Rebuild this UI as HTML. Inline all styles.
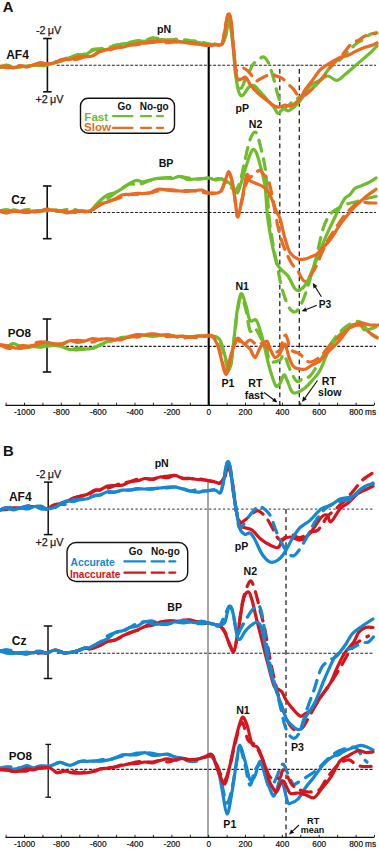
<!DOCTYPE html>
<html><head><meta charset="utf-8"><style>
html,body{margin:0;padding:0;background:#fff;}
body{width:379px;height:850px;overflow:hidden;}
svg{display:block;font-family:"Liberation Sans", sans-serif;}
</style></head><body>
<svg width="379" height="850" viewBox="0 0 379 850">
<rect width="379" height="850" fill="#fff"/>
<text x="8.2" y="11.6" font-size="14.8" font-weight="bold" fill="#111" text-anchor="middle" >A</text>
<line x1="56.7" y1="65.2" x2="376.0" y2="65.2" stroke="#222" stroke-width="1.1" stroke-dasharray="3 1.6"/>
<line x1="56.7" y1="212.5" x2="376.0" y2="212.5" stroke="#222" stroke-width="1.1" stroke-dasharray="3 1.6"/>
<line x1="56.7" y1="346.4" x2="376.0" y2="346.4" stroke="#222" stroke-width="1.1" stroke-dasharray="3 1.6"/>
<line x1="279.8" y1="64.8" x2="279.8" y2="405.0" stroke="#222" stroke-width="1.3" stroke-dasharray="4.75 3.55" stroke-dashoffset="4.20"/>
<line x1="299.3" y1="64.8" x2="299.3" y2="405.0" stroke="#222" stroke-width="1.3" stroke-dasharray="4.75 3.55" stroke-dashoffset="4.20"/>
<line x1="208.7" y1="45" x2="208.7" y2="405.5" stroke="#000" stroke-width="2.1"/>
<line x1="5.5" y1="405.3" x2="374" y2="405.3" stroke="#111" stroke-width="1.3"/>
<line x1="6.1" y1="402.7" x2="6.1" y2="405.3" stroke="#111" stroke-width="0.9"/>
<line x1="24.5" y1="402.7" x2="24.5" y2="405.3" stroke="#111" stroke-width="0.9"/>
<line x1="42.9" y1="402.7" x2="42.9" y2="405.3" stroke="#111" stroke-width="0.9"/>
<line x1="61.3" y1="402.7" x2="61.3" y2="405.3" stroke="#111" stroke-width="0.9"/>
<line x1="79.8" y1="402.7" x2="79.8" y2="405.3" stroke="#111" stroke-width="0.9"/>
<line x1="98.2" y1="402.7" x2="98.2" y2="405.3" stroke="#111" stroke-width="0.9"/>
<line x1="116.6" y1="402.7" x2="116.6" y2="405.3" stroke="#111" stroke-width="0.9"/>
<line x1="135.0" y1="402.7" x2="135.0" y2="405.3" stroke="#111" stroke-width="0.9"/>
<line x1="153.4" y1="402.7" x2="153.4" y2="405.3" stroke="#111" stroke-width="0.9"/>
<line x1="171.9" y1="402.7" x2="171.9" y2="405.3" stroke="#111" stroke-width="0.9"/>
<line x1="190.3" y1="402.7" x2="190.3" y2="405.3" stroke="#111" stroke-width="0.9"/>
<line x1="208.7" y1="402.7" x2="208.7" y2="405.3" stroke="#111" stroke-width="0.9"/>
<line x1="227.1" y1="402.7" x2="227.1" y2="405.3" stroke="#111" stroke-width="0.9"/>
<line x1="245.5" y1="402.7" x2="245.5" y2="405.3" stroke="#111" stroke-width="0.9"/>
<line x1="264.0" y1="402.7" x2="264.0" y2="405.3" stroke="#111" stroke-width="0.9"/>
<line x1="282.4" y1="402.7" x2="282.4" y2="405.3" stroke="#111" stroke-width="0.9"/>
<line x1="300.8" y1="402.7" x2="300.8" y2="405.3" stroke="#111" stroke-width="0.9"/>
<line x1="319.2" y1="402.7" x2="319.2" y2="405.3" stroke="#111" stroke-width="0.9"/>
<line x1="337.6" y1="402.7" x2="337.6" y2="405.3" stroke="#111" stroke-width="0.9"/>
<line x1="356.1" y1="402.7" x2="356.1" y2="405.3" stroke="#111" stroke-width="0.9"/>
<line x1="374.5" y1="402.7" x2="374.5" y2="405.3" stroke="#111" stroke-width="0.9"/>
<text transform="translate(24.5,415.3) scale(0.9,1)" font-size="9.2" fill="#111" stroke="#111" stroke-width="0.22" text-anchor="middle">-1000</text>
<text transform="translate(61.3,415.3) scale(0.9,1)" font-size="9.2" fill="#111" stroke="#111" stroke-width="0.22" text-anchor="middle">-800</text>
<text transform="translate(98.2,415.3) scale(0.9,1)" font-size="9.2" fill="#111" stroke="#111" stroke-width="0.22" text-anchor="middle">-600</text>
<text transform="translate(135.0,415.3) scale(0.9,1)" font-size="9.2" fill="#111" stroke="#111" stroke-width="0.22" text-anchor="middle">-400</text>
<text transform="translate(171.9,415.3) scale(0.9,1)" font-size="9.2" fill="#111" stroke="#111" stroke-width="0.22" text-anchor="middle">-200</text>
<text transform="translate(208.7,415.3) scale(0.9,1)" font-size="9.2" fill="#111" stroke="#111" stroke-width="0.22" text-anchor="middle">0</text>
<text transform="translate(245.5,415.3) scale(0.9,1)" font-size="9.2" fill="#111" stroke="#111" stroke-width="0.22" text-anchor="middle">200</text>
<text transform="translate(282.4,415.3) scale(0.9,1)" font-size="9.2" fill="#111" stroke="#111" stroke-width="0.22" text-anchor="middle">400</text>
<text transform="translate(319.2,415.3) scale(0.9,1)" font-size="9.2" fill="#111" stroke="#111" stroke-width="0.22" text-anchor="middle">600</text>
<text transform="translate(356.1,415.3) scale(0.9,1)" font-size="9.2" fill="#111" stroke="#111" stroke-width="0.22" text-anchor="middle">800</text>
<text transform="translate(365,415.3) scale(0.9,1)" font-size="9.2" fill="#111" stroke="#111" stroke-width="0.22">ms</text>
<line x1="47.4" y1="38.5" x2="47.4" y2="91.8" stroke="#111" stroke-width="1.6"/>
<line x1="43.1" y1="38.5" x2="51.7" y2="38.5" stroke="#111" stroke-width="1.6"/>
<line x1="43.1" y1="91.8" x2="51.7" y2="91.8" stroke="#111" stroke-width="1.6"/>
<line x1="47.2" y1="186.0" x2="47.2" y2="238.7" stroke="#111" stroke-width="1.6"/>
<line x1="42.9" y1="186.0" x2="51.5" y2="186.0" stroke="#111" stroke-width="1.6"/>
<line x1="42.9" y1="238.7" x2="51.5" y2="238.7" stroke="#111" stroke-width="1.6"/>
<line x1="47.0" y1="319.0" x2="47.0" y2="372.0" stroke="#111" stroke-width="1.6"/>
<line x1="42.7" y1="319.0" x2="51.3" y2="319.0" stroke="#111" stroke-width="1.6"/>
<line x1="42.7" y1="372.0" x2="51.3" y2="372.0" stroke="#111" stroke-width="1.6"/>
<text x="48.5" y="34.1" font-size="10.8" font-weight="normal" fill="#1a1a1a" text-anchor="middle" stroke="#1a1a1a" stroke-width="0.25">-2&#8201;&#956;V</text>
<text x="49.5" y="102.6" font-size="10.8" font-weight="normal" fill="#1a1a1a" text-anchor="middle" stroke="#1a1a1a" stroke-width="0.25">+2&#8201;&#956;V</text>
<text x="17.5" y="59.2" font-size="12.0" font-weight="bold" fill="#111" text-anchor="middle" >AF4</text>
<text x="18.5" y="204.4" font-size="12.0" font-weight="bold" fill="#111" text-anchor="middle" >Cz</text>
<text x="19.3" y="337.0" font-size="11.6" font-weight="bold" fill="#111" text-anchor="middle" >PO8</text>
<rect x="80.5" y="98.3" width="94" height="35" rx="7.5" ry="7.5" fill="#fff" stroke="#111" stroke-width="1.4"/>
<text x="124.5" y="110.3" font-size="10.0" font-weight="bold" fill="#111" text-anchor="middle" >Go</text>
<text x="154.2" y="110.3" font-size="10.0" font-weight="bold" fill="#111" text-anchor="middle" >No-go</text>
<text x="84.3" y="120.6" font-size="11.6" font-weight="bold" fill="#6fbd2c" text-anchor="start" >Fast</text>
<text x="84.0" y="130.8" font-size="11.6" font-weight="bold" fill="#ea6a22" text-anchor="start" >Slow</text>
<line x1="113" y1="116.1" x2="132.4" y2="116.1" stroke="#6fbd2c" stroke-width="2.2" stroke-linecap="round"/>
<line x1="141" y1="116.1" x2="151" y2="116.1" stroke="#6fbd2c" stroke-width="2.2" stroke-linecap="round"/>
<line x1="157" y1="116.1" x2="163" y2="116.1" stroke="#6fbd2c" stroke-width="2.2" stroke-linecap="round"/>
<line x1="113" y1="127.9" x2="132.4" y2="127.9" stroke="#ea6a22" stroke-width="2.2" stroke-linecap="round"/>
<line x1="141" y1="127.9" x2="151" y2="127.9" stroke="#ea6a22" stroke-width="2.2" stroke-linecap="round"/>
<line x1="157" y1="127.9" x2="163" y2="127.9" stroke="#ea6a22" stroke-width="2.2" stroke-linecap="round"/>
<path d="M0.0,67.6 C1.1,67.4 4.4,66.5 6.7,66.4 C8.9,66.4 11.1,67.3 13.3,67.4 C15.6,67.5 17.6,67.4 20.0,67.1 C22.4,66.8 25.0,66.0 27.5,65.8 C30.0,65.5 32.8,65.4 35.0,65.4 C37.2,65.4 39.0,65.7 41.0,65.6 C43.0,65.6 44.7,65.6 47.0,65.1 C49.3,64.6 52.4,63.6 55.0,62.9 C57.6,62.1 60.0,61.6 62.5,60.7 C65.0,59.8 67.5,58.6 70.0,57.6 C72.5,56.6 75.0,55.1 77.5,54.6 C80.0,54.2 82.5,55.6 85.0,54.9 C87.5,54.2 90.0,51.3 92.5,50.4 C95.0,49.6 97.5,49.8 100.0,49.6 C102.5,49.4 105.0,49.8 107.5,49.2 C110.0,48.7 112.5,47.2 115.0,46.3 C117.5,45.4 120.0,44.4 122.5,43.9 C125.0,43.4 127.5,43.8 130.0,43.4 C132.5,43.0 135.0,41.7 137.5,41.3 C140.0,41.0 142.5,41.1 145.0,41.3 C147.5,41.5 150.0,42.7 152.5,42.4 C155.0,42.1 157.5,40.2 160.0,39.7 C162.5,39.3 165.0,39.8 167.5,39.9 C170.0,40.0 172.5,39.9 175.0,40.3 C177.5,40.6 180.0,41.9 182.5,42.1 C185.0,42.3 187.1,41.3 190.0,41.4 C192.9,41.5 196.8,42.3 200.0,42.8 C203.2,43.3 206.4,44.2 209.0,44.5 C211.6,44.8 213.3,44.5 215.5,44.4 C217.7,44.4 220.2,45.6 222.0,44.0 C223.8,42.4 225.0,38.3 226.0,35.0 C227.0,31.7 227.2,24.8 228.0,24.0 C228.8,23.2 230.0,24.8 231.0,30.0 C232.0,35.2 233.2,47.6 234.0,55.0 C234.8,62.4 234.6,68.2 235.5,74.5 C236.4,80.8 237.9,89.6 239.2,93.0 C240.4,96.4 241.4,95.9 243.0,95.0 C244.6,94.1 246.7,89.1 248.5,87.5 C250.3,85.9 252.2,85.0 254.0,85.6 C255.8,86.2 257.3,88.9 259.5,91.2 C261.7,93.5 264.5,96.7 267.0,99.5 C269.5,102.3 272.5,105.5 274.3,107.8 C276.1,110.1 276.4,113.1 278.0,113.3 C279.6,113.5 281.8,109.2 283.6,108.7 C285.4,108.2 286.3,111.9 289.0,110.6 C291.7,109.3 296.5,105.1 300.0,101.0 C303.5,96.9 306.7,89.4 310.0,86.0 C313.3,82.6 317.0,82.1 320.0,80.4 C323.0,78.7 325.2,76.0 328.0,76.0 C330.8,76.0 334.2,80.6 337.0,80.4 C339.8,80.2 342.0,77.0 345.0,74.6 C348.0,72.2 351.7,68.9 355.0,66.0 C358.3,63.1 362.3,59.7 365.0,57.4 C367.7,55.1 369.0,54.0 371.0,52.1 C373.0,50.2 376.0,47.0 377.0,46.0" fill="none" stroke="#6fbd2c" stroke-width="3.2" stroke-linecap="round" stroke-linejoin="round"/>
<path d="M0.0,66.6 C1.1,66.4 4.4,65.1 6.7,65.1 C8.9,65.1 11.1,66.6 13.3,66.8 C15.6,66.9 17.6,66.1 20.0,66.1 C22.4,66.1 25.0,66.9 27.5,66.6 C30.0,66.4 32.8,64.8 35.0,64.4 C37.2,64.0 39.0,64.4 41.0,64.3 C43.0,64.3 44.7,64.5 47.0,64.1 C49.3,63.7 52.4,62.5 55.0,61.9 C57.6,61.2 60.0,61.0 62.5,60.1 C65.0,59.3 67.5,57.3 70.0,56.6 C72.5,55.9 75.0,56.4 77.5,55.9 C80.0,55.5 82.5,55.0 85.0,53.9 C87.5,52.9 90.0,50.5 92.5,49.6 C95.0,48.8 97.5,48.9 100.0,48.7 C102.5,48.4 105.0,48.5 107.5,48.0 C110.0,47.4 112.5,45.9 115.0,45.3 C117.5,44.7 120.0,44.7 122.5,44.2 C125.0,43.7 127.5,43.0 130.0,42.4 C132.5,41.8 135.0,41.0 137.5,40.7 C140.0,40.3 142.5,40.8 145.0,40.4 C147.5,39.9 150.0,38.1 152.5,37.8 C155.0,37.5 157.5,38.4 160.0,38.8 C162.5,39.3 165.0,40.4 167.5,40.5 C170.0,40.6 172.5,39.5 175.0,39.3 C177.5,39.2 180.0,39.6 182.5,39.8 C185.0,40.0 187.1,40.1 190.0,40.5 C192.9,40.8 196.8,41.3 200.0,41.9 C203.2,42.5 206.4,43.3 209.0,43.8 C211.6,44.3 213.3,44.7 215.5,44.8 C217.7,44.8 220.2,46.0 222.0,44.0 C223.8,42.0 225.0,37.0 226.0,33.0 C227.0,29.0 227.2,20.8 228.0,20.0 C228.8,19.2 230.0,22.2 231.0,28.0 C232.0,33.8 233.0,46.7 234.0,55.0 C235.0,63.3 235.8,72.4 237.0,78.0 C238.2,83.6 239.7,88.1 241.0,88.4 C242.3,88.7 243.8,82.5 245.0,80.0 C246.2,77.5 247.2,76.2 248.5,73.6 C249.8,71.0 251.2,66.8 253.0,64.4 C254.8,62.0 257.2,60.2 259.0,59.0 C260.8,57.8 262.5,56.5 264.0,57.0 C265.5,57.5 266.8,59.8 268.0,62.0 C269.2,64.2 269.9,66.8 271.0,70.0 C272.1,73.2 273.3,77.3 274.3,81.0 C275.3,84.7 275.9,88.2 277.0,92.0 C278.1,95.8 279.6,101.3 280.8,104.0 C282.0,106.7 282.6,107.8 284.0,108.0 C285.4,108.2 287.4,106.3 289.0,105.0 C290.6,103.7 291.9,101.7 293.7,100.4 C295.5,99.1 297.6,98.4 300.0,97.0 C302.4,95.6 305.3,94.0 308.0,92.0 C310.7,90.0 313.5,87.5 316.0,85.0 C318.5,82.5 320.7,79.7 323.0,76.8 C325.3,73.9 327.6,69.9 330.0,67.5 C332.4,65.1 335.0,64.3 337.5,62.1 C340.0,60.0 342.8,56.8 345.0,54.5 C347.2,52.2 349.0,50.4 351.0,48.5 C353.0,46.6 354.9,44.5 357.0,43.0 C359.1,41.5 361.3,40.9 363.5,39.5 C365.7,38.1 367.8,35.5 370.0,34.4 C372.2,33.3 375.8,33.2 377.0,33.0" fill="none" stroke="#6fbd2c" stroke-width="3.2" stroke-linecap="round" stroke-linejoin="round" stroke-dasharray="11 8"/>
<path d="M0.0,66.5 C1.1,66.4 4.4,65.9 6.7,66.1 C8.9,66.3 11.1,67.8 13.3,67.8 C15.6,67.8 17.6,66.2 20.0,66.0 C22.4,65.8 25.0,66.9 27.5,66.6 C30.0,66.3 32.8,65.0 35.0,64.3 C37.2,63.6 39.0,62.7 41.0,62.6 C43.0,62.6 44.7,64.0 47.0,64.0 C49.3,64.0 52.4,63.2 55.0,62.5 C57.6,61.8 60.0,60.1 62.5,59.6 C65.0,59.1 67.5,59.9 70.0,59.5 C72.5,59.1 75.0,57.5 77.5,57.1 C80.0,56.6 82.5,57.0 85.0,56.8 C87.5,56.6 90.0,56.8 92.5,55.9 C95.0,55.0 97.5,52.6 100.0,51.5 C102.5,50.4 105.0,50.1 107.5,49.6 C110.0,49.0 112.5,48.5 115.0,48.1 C117.5,47.7 120.0,47.6 122.5,47.1 C125.0,46.6 127.5,45.8 130.0,45.2 C132.5,44.6 135.0,43.7 137.5,43.4 C140.0,43.0 142.5,43.3 145.0,43.1 C147.5,42.9 150.0,42.6 152.5,42.3 C155.0,42.1 157.5,41.7 160.0,41.5 C162.5,41.3 165.0,41.2 167.5,41.3 C170.0,41.4 172.5,41.9 175.0,42.0 C177.5,42.1 180.0,41.8 182.5,42.0 C185.0,42.2 187.1,42.7 190.0,43.1 C192.9,43.5 196.8,44.1 200.0,44.5 C203.2,44.9 206.4,45.4 209.0,45.5 C211.6,45.6 213.3,45.2 215.5,45.0 C217.7,44.7 220.4,46.5 222.0,44.0 C223.6,41.5 224.0,34.9 225.0,30.0 C226.0,25.1 227.0,16.2 228.0,14.5 C229.0,12.8 230.1,14.1 231.0,20.0 C231.9,25.9 232.8,40.6 233.7,50.0 C234.6,59.4 235.3,71.5 236.5,76.4 C237.7,81.3 239.5,79.1 241.0,79.2 C242.5,79.3 244.1,76.4 245.7,77.3 C247.2,78.2 248.3,82.1 250.3,84.7 C252.3,87.3 254.9,90.4 257.7,93.0 C260.5,95.6 264.2,98.2 267.0,100.4 C269.8,102.6 272.1,104.9 274.3,106.0 C276.5,107.1 278.1,107.2 280.0,107.0 C281.9,106.8 283.6,105.2 285.4,105.0 C287.2,104.8 288.6,107.1 291.0,106.0 C293.4,104.9 297.7,101.3 300.0,98.6 C302.3,95.9 302.9,93.1 305.0,90.0 C307.1,86.9 310.0,83.6 312.5,80.2 C315.0,76.9 317.1,72.9 320.0,70.0 C322.9,67.1 326.7,65.1 330.0,63.0 C333.3,60.9 337.1,58.6 340.0,57.4 C342.9,56.2 345.0,56.5 347.5,55.6 C350.0,54.6 352.1,53.0 355.0,51.6 C357.9,50.2 362.3,48.3 365.0,47.3 C367.7,46.3 369.0,46.4 371.0,45.6 C373.0,44.9 376.0,43.4 377.0,43.0" fill="none" stroke="#ea6a22" stroke-width="3.2" stroke-linecap="round" stroke-linejoin="round"/>
<path d="M0.0,66.2 C1.1,66.4 4.4,67.5 6.7,67.7 C8.9,67.8 11.1,67.5 13.3,67.2 C15.6,66.9 17.6,65.8 20.0,65.7 C22.4,65.6 25.0,67.0 27.5,66.7 C30.0,66.4 32.8,64.4 35.0,64.0 C37.2,63.6 39.0,64.6 41.0,64.5 C43.0,64.5 44.7,64.1 47.0,63.7 C49.3,63.3 52.4,62.9 55.0,62.2 C57.6,61.5 60.0,59.9 62.5,59.4 C65.0,58.9 67.5,59.2 70.0,59.2 C72.5,59.2 75.0,59.7 77.5,59.2 C80.0,58.8 82.5,57.1 85.0,56.5 C87.5,55.9 90.0,56.5 92.5,55.6 C95.0,54.7 97.5,52.0 100.0,51.2 C102.5,50.4 105.0,51.6 107.5,51.0 C110.0,50.5 112.5,48.5 115.0,47.8 C117.5,47.1 120.0,47.1 122.5,46.6 C125.0,46.1 127.5,45.2 130.0,44.9 C132.5,44.6 135.0,45.0 137.5,44.7 C140.0,44.3 142.5,43.4 145.0,42.8 C147.5,42.2 150.0,41.2 152.5,40.9 C155.0,40.6 157.5,40.9 160.0,41.2 C162.5,41.5 165.0,42.6 167.5,42.7 C170.0,42.8 172.5,41.7 175.0,41.7 C177.5,41.7 180.0,42.3 182.5,42.5 C185.0,42.7 187.1,42.5 190.0,42.8 C192.9,43.1 196.8,43.8 200.0,44.2 C203.2,44.6 206.4,45.2 209.0,45.2 C211.6,45.2 213.3,44.2 215.5,44.0 C217.7,43.8 220.4,46.7 222.0,44.0 C223.6,41.3 224.0,32.8 225.0,28.0 C226.0,23.2 227.0,16.0 228.0,15.0 C229.0,14.0 230.0,15.3 231.0,22.0 C232.0,28.7 233.2,47.0 234.0,55.0 C234.8,63.0 234.5,67.8 236.0,70.0 C237.5,72.2 241.0,67.8 243.0,68.0 C245.0,68.2 246.5,69.7 248.0,71.0 C249.5,72.3 250.7,74.3 252.0,76.0 C253.3,77.7 254.7,80.5 256.0,81.0 C257.3,81.5 258.3,79.8 260.0,79.0 C261.7,78.2 264.0,76.8 266.0,76.0 C268.0,75.2 270.3,74.0 272.0,74.0 C273.7,74.0 274.4,75.3 276.0,76.0 C277.6,76.7 279.7,76.7 281.7,78.0 C283.7,79.3 286.0,82.1 288.0,84.0 C290.0,85.9 292.0,87.5 293.7,89.3 C295.4,91.1 296.1,94.0 298.0,95.0 C299.9,96.0 302.2,96.5 305.0,95.0 C307.8,93.5 311.7,89.4 315.0,86.0 C318.3,82.6 322.3,77.9 325.0,74.6 C327.7,71.3 329.0,68.6 331.0,66.1 C333.0,63.7 335.0,62.0 337.0,60.0 C339.0,58.0 340.5,56.8 343.0,54.0 C345.5,51.2 349.4,45.3 352.0,43.0 C354.6,40.7 356.3,41.6 358.5,40.4 C360.7,39.3 362.1,37.2 365.0,36.0 C367.9,34.8 374.2,33.5 376.0,33.0" fill="none" stroke="#ea6a22" stroke-width="3.2" stroke-linecap="round" stroke-linejoin="round" stroke-dasharray="11 8"/>
<text x="164.0" y="33.0" font-size="10.6" font-weight="bold" fill="#111" text-anchor="middle" >pN</text>
<text x="242.2" y="112.4" font-size="10.6" font-weight="bold" fill="#111" text-anchor="middle" >pP</text>
<path d="M0.0,211.0 C1.1,211.3 4.4,213.2 6.7,213.0 C8.9,212.8 11.1,210.0 13.3,209.8 C15.6,209.5 17.8,211.0 20.0,211.5 C22.2,212.0 24.4,212.6 26.7,212.5 C28.9,212.4 31.1,211.1 33.3,210.8 C35.6,210.6 37.8,211.2 40.0,211.0 C42.2,210.8 44.4,209.8 46.7,209.7 C48.9,209.5 51.1,210.0 53.3,210.2 C55.6,210.4 57.8,210.7 60.0,211.0 C62.2,211.3 64.4,211.8 66.7,212.0 C68.9,212.3 71.1,212.6 73.3,212.4 C75.6,212.2 77.2,211.2 80.0,211.0 C82.8,210.8 86.7,212.7 90.0,211.0 C93.3,209.3 97.1,203.4 100.0,200.7 C102.9,198.0 105.0,196.3 107.5,195.0 C110.0,193.6 112.5,193.8 115.0,192.7 C117.5,191.6 120.0,190.0 122.5,188.4 C125.0,186.8 127.6,184.5 130.0,183.2 C132.4,181.9 134.4,180.6 136.7,180.4 C138.9,180.2 141.1,182.0 143.3,181.9 C145.6,181.8 147.6,180.6 150.0,180.0 C152.4,179.4 155.0,178.7 157.5,178.3 C160.0,178.0 162.5,177.9 165.0,177.9 C167.5,177.9 170.0,178.8 172.5,178.5 C175.0,178.3 177.5,176.1 180.0,176.3 C182.5,176.5 185.0,179.0 187.5,179.5 C190.0,179.9 192.6,179.2 195.0,179.0 C197.4,178.8 199.7,178.7 202.0,178.5 C204.3,178.4 206.8,177.8 209.0,178.0 C211.2,178.2 213.3,179.7 215.5,179.8 C217.7,180.0 219.6,178.4 222.0,179.0 C224.4,179.6 227.8,181.6 230.0,183.6 C232.2,185.6 233.7,189.4 235.0,190.8 C236.3,192.2 236.8,193.8 238.0,192.0 C239.2,190.2 240.5,184.8 242.0,180.0 C243.5,175.2 245.3,168.3 247.0,163.4 C248.7,158.5 250.5,152.3 252.0,150.4 C253.5,148.5 254.7,149.6 256.0,152.0 C257.3,154.4 258.5,158.9 260.0,164.6 C261.5,170.3 263.7,176.8 265.0,186.0 C266.3,195.2 266.3,208.1 268.0,220.0 C269.7,231.9 273.0,249.2 275.0,257.3 C277.0,265.4 277.8,265.2 280.0,268.3 C282.2,271.4 285.5,272.6 288.0,276.0 C290.5,279.4 293.0,286.4 295.0,288.7 C297.0,291.0 298.0,291.1 300.0,290.0 C302.0,288.9 304.5,286.8 307.0,282.4 C309.5,278.0 312.0,270.9 315.0,263.6 C318.0,256.3 322.1,245.4 325.0,238.5 C327.9,231.6 330.0,227.5 332.5,222.2 C335.0,217.0 337.9,211.0 340.0,207.0 C342.1,203.0 343.3,200.4 345.0,198.3 C346.7,196.2 348.3,196.3 350.0,194.6 C351.7,192.9 353.0,189.8 355.0,188.3 C357.0,186.8 359.5,186.6 362.0,185.5 C364.5,184.4 367.7,183.2 370.0,181.9 C372.3,180.7 375.0,178.7 376.0,178.0" fill="none" stroke="#6fbd2c" stroke-width="3.2" stroke-linecap="round" stroke-linejoin="round"/>
<path d="M0.0,211.0 C1.1,210.8 4.4,209.4 6.7,209.6 C8.9,209.7 11.1,211.4 13.3,211.7 C15.6,212.0 17.8,211.9 20.0,211.5 C22.2,211.1 24.4,209.8 26.7,209.6 C28.9,209.3 31.1,209.8 33.3,210.0 C35.6,210.3 37.8,210.9 40.0,211.0 C42.2,211.1 44.4,210.6 46.7,210.7 C48.9,210.7 51.1,211.4 53.3,211.4 C55.6,211.5 57.8,211.3 60.0,211.0 C62.2,210.7 64.4,210.0 66.7,209.7 C68.9,209.4 71.1,209.0 73.3,209.3 C75.6,209.5 77.2,210.7 80.0,211.0 C82.8,211.3 86.7,212.7 90.0,211.0 C93.3,209.3 97.1,203.1 100.0,201.0 C102.9,198.9 105.0,199.7 107.5,198.4 C110.0,197.1 112.5,194.8 115.0,193.0 C117.5,191.2 120.0,189.3 122.5,187.8 C125.0,186.3 127.6,184.5 130.0,184.0 C132.4,183.5 134.4,184.7 136.7,184.6 C138.9,184.4 141.1,183.9 143.3,183.2 C145.6,182.5 147.6,181.2 150.0,180.5 C152.4,179.8 155.0,179.2 157.5,178.8 C160.0,178.4 162.5,178.3 165.0,178.0 C167.5,177.7 170.0,177.3 172.5,177.1 C175.0,176.8 177.5,176.4 180.0,176.5 C182.5,176.6 185.0,177.4 187.5,177.8 C190.0,178.2 192.6,178.8 195.0,179.0 C197.4,179.2 199.7,179.2 202.0,179.0 C204.3,178.9 206.8,178.0 209.0,178.0 C211.2,178.0 213.3,178.6 215.5,178.8 C217.7,178.9 219.8,178.0 222.0,179.0 C224.2,180.0 226.3,182.8 228.5,184.7 C230.7,186.5 233.1,190.4 235.0,190.0 C236.9,189.6 238.3,187.0 240.0,182.0 C241.7,177.0 243.3,167.1 245.0,160.0 C246.7,152.9 248.2,144.3 250.0,139.7 C251.8,135.1 254.0,130.4 256.0,132.6 C258.0,134.8 260.3,145.7 262.0,152.8 C263.7,159.9 264.7,163.0 266.0,175.0 C267.3,187.0 268.0,209.2 270.0,225.0 C272.0,240.8 275.8,258.8 278.0,270.0 C280.2,281.2 281.0,285.5 283.0,292.0 C285.0,298.5 287.7,305.9 290.0,309.0 C292.3,312.1 294.5,313.0 297.0,310.7 C299.5,308.4 302.0,303.1 305.0,295.0 C308.0,286.9 312.0,273.0 315.0,262.0 C318.0,251.0 320.5,236.9 323.0,229.0 C325.5,221.1 327.5,218.1 330.0,214.7 C332.5,211.2 335.0,210.1 338.0,208.3 C341.0,206.5 344.9,204.8 348.0,203.7 C351.1,202.6 353.7,202.5 356.5,201.7 C359.3,200.9 361.8,199.9 365.0,199.0 C368.2,198.1 374.2,196.8 376.0,196.4" fill="none" stroke="#6fbd2c" stroke-width="3.2" stroke-linecap="round" stroke-linejoin="round" stroke-dasharray="11 8"/>
<path d="M0.0,211.0 C1.1,211.3 4.4,212.8 6.7,212.8 C8.9,212.9 11.1,211.6 13.3,211.4 C15.6,211.1 17.8,211.5 20.0,211.5 C22.2,211.5 24.4,211.0 26.7,211.1 C28.9,211.2 31.1,212.0 33.3,212.0 C35.6,212.0 37.8,211.3 40.0,211.0 C42.2,210.7 44.4,210.1 46.7,210.0 C48.9,209.9 51.1,210.1 53.3,210.2 C55.6,210.4 57.8,210.6 60.0,211.0 C62.2,211.4 64.4,212.8 66.7,212.8 C68.9,212.8 71.1,211.4 73.3,211.1 C75.6,210.8 77.2,211.0 80.0,211.0 C82.8,211.0 86.7,212.1 90.0,211.0 C93.3,209.9 97.1,206.0 100.0,204.5 C102.9,203.0 105.0,202.9 107.5,201.9 C110.0,201.0 112.5,200.2 115.0,199.0 C117.5,197.8 120.0,195.6 122.5,194.8 C125.0,194.0 127.6,194.5 130.0,194.3 C132.4,194.1 134.4,193.6 136.7,193.4 C138.9,193.3 141.1,193.7 143.3,193.5 C145.6,193.4 147.6,193.4 150.0,192.7 C152.4,192.0 155.0,189.8 157.5,189.3 C160.0,188.8 162.5,189.4 165.0,189.6 C167.5,189.8 170.0,190.5 172.5,190.7 C175.0,191.0 177.5,190.9 180.0,191.0 C182.5,191.1 185.0,191.3 187.5,191.3 C190.0,191.2 192.6,190.7 195.0,190.5 C197.4,190.3 199.7,189.7 202.0,190.1 C204.3,190.5 206.0,192.7 209.0,193.0 C212.0,193.3 217.3,194.0 220.0,192.0 C222.7,190.0 223.5,184.4 225.0,181.0 C226.5,177.6 227.7,171.1 229.0,171.8 C230.3,172.5 231.8,179.1 233.0,185.0 C234.2,190.9 235.2,201.7 236.0,207.0 C236.8,212.3 237.0,218.1 238.0,216.9 C239.0,215.7 240.7,206.2 242.0,199.6 C243.3,193.0 245.0,181.5 246.0,177.4 C247.0,173.3 247.3,174.5 248.0,175.0 C248.7,175.5 248.8,179.3 250.0,180.6 C251.2,181.9 253.0,182.1 255.0,183.0 C257.0,183.9 260.0,184.8 262.0,186.0 C264.0,187.2 265.3,187.7 267.0,190.0 C268.7,192.3 270.5,196.2 272.0,199.6 C273.5,203.0 274.7,207.5 276.0,210.7 C277.3,213.9 278.5,214.0 280.0,218.6 C281.5,223.2 283.3,232.8 285.0,238.5 C286.7,244.2 287.8,249.2 290.0,252.6 C292.2,256.0 295.5,257.9 298.0,259.0 C300.5,260.1 302.8,259.4 305.0,259.0 C307.2,258.6 309.0,257.7 311.0,256.8 C313.0,256.0 314.9,255.7 317.0,254.0 C319.1,252.3 321.3,249.2 323.5,246.9 C325.7,244.6 327.2,243.7 330.0,240.0 C332.8,236.3 336.7,229.4 340.0,224.7 C343.3,220.0 347.0,215.5 350.0,212.0 C353.0,208.5 355.5,206.1 358.0,203.7 C360.5,201.3 362.0,199.8 365.0,197.4 C368.0,195.0 374.2,190.6 376.0,189.2" fill="none" stroke="#ea6a22" stroke-width="3.2" stroke-linecap="round" stroke-linejoin="round"/>
<path d="M0.0,211.0 C1.1,211.1 4.4,211.9 6.7,211.8 C8.9,211.8 11.1,210.8 13.3,210.8 C15.6,210.7 17.8,211.3 20.0,211.5 C22.2,211.7 24.4,212.0 26.7,212.1 C28.9,212.2 31.1,212.3 33.3,212.1 C35.6,211.9 37.8,211.5 40.0,211.0 C42.2,210.5 44.4,209.5 46.7,209.2 C48.9,208.9 51.1,209.0 53.3,209.3 C55.6,209.6 57.8,210.6 60.0,211.0 C62.2,211.4 64.4,211.4 66.7,211.7 C68.9,212.0 71.1,212.9 73.3,212.8 C75.6,212.6 77.2,211.3 80.0,211.0 C82.8,210.7 86.7,212.0 90.0,211.0 C93.3,210.0 97.1,206.6 100.0,205.0 C102.9,203.4 105.0,202.2 107.5,201.3 C110.0,200.4 112.5,200.2 115.0,199.5 C117.5,198.8 120.0,197.7 122.5,196.8 C125.0,196.0 127.6,194.9 130.0,194.5 C132.4,194.1 134.4,194.6 136.7,194.4 C138.9,194.1 141.1,193.0 143.3,192.8 C145.6,192.6 147.6,193.3 150.0,193.0 C152.4,192.7 155.0,191.5 157.5,191.0 C160.0,190.5 162.5,190.2 165.0,190.0 C167.5,189.8 170.0,189.6 172.5,189.8 C175.0,190.0 177.5,190.9 180.0,191.0 C182.5,191.1 185.0,190.5 187.5,190.5 C190.0,190.5 192.6,190.7 195.0,191.0 C197.4,191.3 199.7,192.0 202.0,192.4 C204.3,192.7 206.0,193.1 209.0,193.0 C212.0,192.9 217.3,193.8 220.0,192.0 C222.7,190.2 223.5,185.2 225.0,182.0 C226.5,178.8 227.7,172.3 229.0,173.0 C230.3,173.7 231.8,180.2 233.0,186.0 C234.2,191.8 235.2,203.0 236.0,208.0 C236.8,213.0 237.0,217.3 238.0,216.0 C239.0,214.7 240.5,205.7 242.0,200.0 C243.5,194.3 244.8,186.4 247.0,182.0 C249.2,177.6 252.8,175.4 255.0,173.5 C257.2,171.6 258.5,170.1 260.0,170.3 C261.5,170.6 262.7,173.6 264.0,175.0 C265.3,176.4 266.7,175.7 268.0,179.0 C269.3,182.3 270.0,185.6 272.0,195.0 C274.0,204.4 277.0,224.5 280.0,235.4 C283.0,246.3 287.0,254.5 290.0,260.5 C293.0,266.5 295.5,268.1 298.0,271.5 C300.5,274.9 302.2,281.5 305.0,281.0 C307.8,280.5 312.2,272.9 315.0,268.3 C317.8,263.7 319.3,258.3 321.5,253.6 C323.7,248.9 325.7,244.2 328.0,240.0 C330.3,235.8 333.0,232.1 335.5,228.4 C338.0,224.6 340.2,220.9 343.0,217.4 C345.8,213.9 349.2,210.0 352.0,207.4 C354.8,204.8 357.3,202.8 360.0,202.0 C362.7,201.2 365.3,202.6 368.0,202.8 C370.7,203.0 374.7,203.0 376.0,203.0" fill="none" stroke="#ea6a22" stroke-width="3.2" stroke-linecap="round" stroke-linejoin="round" stroke-dasharray="11 8"/>
<text x="166.0" y="167.4" font-size="10.6" font-weight="bold" fill="#111" text-anchor="middle" >BP</text>
<text x="255.6" y="127.8" font-size="10.6" font-weight="bold" fill="#111" text-anchor="middle" >N2</text>
<text x="325.0" y="307.6" font-size="10.2" font-weight="bold" fill="#111" text-anchor="middle" >P3</text>
<line x1="321.4" y1="296.8" x2="314.4" y2="285.5" stroke="#111" stroke-width="1.15"/>
<polygon points="312.8,282.9 317.3,286.0 313.5,288.4" fill="#111"/>
<line x1="316.8" y1="305.3" x2="304.4" y2="310.2" stroke="#111" stroke-width="1.15"/>
<polygon points="301.6,311.3 305.4,307.4 307.1,311.5" fill="#111"/>
<path d="M0.0,344.5 C1.1,344.8 4.4,346.2 6.7,346.0 C8.9,345.9 11.1,343.7 13.3,343.7 C15.6,343.7 17.6,345.5 20.0,346.0 C22.4,346.5 25.0,346.5 27.5,346.6 C30.0,346.7 32.8,346.5 35.0,346.6 C37.2,346.7 39.0,347.3 41.0,347.2 C43.0,347.1 44.9,346.3 47.0,346.0 C49.1,345.7 51.3,345.3 53.5,345.3 C55.7,345.3 57.2,345.3 60.0,346.0 C62.8,346.7 67.1,349.1 70.0,349.5 C72.9,349.9 75.0,348.3 77.5,348.2 C80.0,348.1 82.5,349.0 85.0,349.0 C87.5,349.0 90.0,348.8 92.5,348.2 C95.0,347.5 97.5,346.1 100.0,345.0 C102.5,343.9 105.0,342.3 107.5,341.5 C110.0,340.7 112.5,340.7 115.0,340.0 C117.5,339.3 120.0,337.8 122.5,337.3 C125.0,336.8 127.5,337.2 130.0,337.0 C132.5,336.8 135.0,336.3 137.5,336.0 C140.0,335.8 142.5,335.5 145.0,335.5 C147.5,335.5 150.0,336.3 152.5,336.3 C155.0,336.3 157.5,335.8 160.0,335.5 C162.5,335.2 165.0,334.3 167.5,334.5 C170.0,334.7 172.5,336.2 175.0,336.5 C177.5,336.8 180.0,336.0 182.5,336.1 C185.0,336.2 187.5,337.0 190.0,337.0 C192.5,337.0 195.0,336.0 197.5,335.9 C200.0,335.7 202.6,336.0 205.0,336.0 C207.4,336.0 209.5,335.3 212.0,336.0 C214.5,336.7 217.7,336.1 220.0,340.0 C222.3,343.9 224.5,354.7 226.0,359.7 C227.5,364.7 228.0,370.4 229.0,370.0 C230.0,369.6 230.7,366.7 232.0,357.0 C233.3,347.3 235.5,322.6 237.0,312.0 C238.5,301.4 239.5,294.8 241.0,293.7 C242.5,292.6 244.5,301.1 246.0,305.6 C247.5,310.1 248.3,318.1 250.0,320.5 C251.7,322.9 254.3,318.4 256.0,320.0 C257.7,321.6 258.7,325.7 260.0,329.8 C261.3,333.9 262.7,339.2 264.0,344.6 C265.3,350.0 266.7,356.8 268.0,362.0 C269.3,367.2 270.7,372.0 272.0,376.0 C273.3,380.0 274.7,384.8 276.0,386.0 C277.3,387.2 278.7,385.1 280.0,383.3 C281.3,381.5 282.8,375.6 284.0,375.0 C285.2,374.4 285.7,377.2 287.0,380.0 C288.3,382.8 290.3,389.6 292.0,391.7 C293.7,393.8 294.8,393.2 297.0,392.6 C299.2,392.0 302.5,390.0 305.0,388.0 C307.5,386.0 309.5,383.5 312.0,380.6 C314.5,377.7 317.0,375.9 320.0,370.4 C323.0,364.9 326.7,353.5 330.0,347.5 C333.3,341.5 336.7,338.1 340.0,334.5 C343.3,330.9 346.7,327.5 350.0,325.9 C353.3,324.3 357.5,324.3 360.0,325.0 C362.5,325.7 362.3,329.7 365.0,330.0 C367.7,330.3 374.2,327.5 376.0,327.0" fill="none" stroke="#6fbd2c" stroke-width="3.2" stroke-linecap="round" stroke-linejoin="round"/>
<path d="M0.0,344.5 C1.1,344.8 4.4,346.1 6.7,346.3 C8.9,346.4 11.1,345.3 13.3,345.3 C15.6,345.2 17.6,345.6 20.0,346.0 C22.4,346.4 25.0,347.6 27.5,347.7 C30.0,347.8 32.8,347.0 35.0,346.6 C37.2,346.2 39.0,345.1 41.0,345.0 C43.0,344.9 44.9,345.9 47.0,346.0 C49.1,346.1 51.3,345.4 53.5,345.4 C55.7,345.4 57.2,345.3 60.0,346.0 C62.8,346.7 67.1,348.9 70.0,349.5 C72.9,350.1 75.0,349.9 77.5,349.8 C80.0,349.7 82.5,349.2 85.0,349.0 C87.5,348.8 90.0,349.1 92.5,348.5 C95.0,347.8 97.5,346.0 100.0,345.0 C102.5,344.0 105.0,343.1 107.5,342.3 C110.0,341.5 112.5,340.8 115.0,340.0 C117.5,339.2 120.0,338.0 122.5,337.5 C125.0,337.0 127.5,337.4 130.0,337.0 C132.5,336.6 135.0,335.1 137.5,334.8 C140.0,334.6 142.5,335.4 145.0,335.5 C147.5,335.6 150.0,335.6 152.5,335.6 C155.0,335.6 157.5,335.6 160.0,335.5 C162.5,335.4 165.0,334.7 167.5,334.8 C170.0,335.0 172.5,336.0 175.0,336.5 C177.5,337.0 180.0,337.8 182.5,337.9 C185.0,338.0 187.5,337.0 190.0,337.0 C192.5,337.0 195.0,338.0 197.5,337.8 C200.0,337.6 202.6,336.3 205.0,336.0 C207.4,335.7 209.5,335.2 212.0,336.0 C214.5,336.8 217.7,336.7 220.0,341.0 C222.3,345.3 224.5,356.8 226.0,362.0 C227.5,367.2 228.0,372.8 229.0,372.0 C230.0,371.2 230.7,366.5 232.0,357.0 C233.3,347.5 235.5,325.0 237.0,315.0 C238.5,305.0 239.5,297.8 241.0,297.0 C242.5,296.2 244.5,304.4 246.0,310.0 C247.5,315.6 248.5,327.7 250.0,330.7 C251.5,333.7 253.0,326.4 255.0,328.0 C257.0,329.6 260.2,337.2 262.0,340.0 C263.8,342.8 264.7,341.5 266.0,345.0 C267.3,348.5 267.7,358.5 270.0,361.0 C272.3,363.5 277.7,361.1 280.0,360.0 C282.3,358.9 282.3,353.1 284.0,354.7 C285.7,356.3 287.8,365.0 290.0,369.5 C292.2,374.0 294.8,380.1 297.0,381.5 C299.2,382.9 301.3,378.8 303.5,377.9 C305.7,377.0 307.2,378.8 310.0,376.0 C312.8,373.2 316.7,366.2 320.0,361.0 C323.3,355.8 326.7,349.8 330.0,345.0 C333.3,340.2 336.7,335.5 340.0,332.0 C343.3,328.5 346.7,325.7 350.0,324.0 C353.3,322.3 356.7,320.5 360.0,322.0 C363.3,323.5 367.2,330.3 370.0,333.0 C372.8,335.7 375.8,337.2 377.0,338.0" fill="none" stroke="#6fbd2c" stroke-width="3.2" stroke-linecap="round" stroke-linejoin="round" stroke-dasharray="11 8"/>
<path d="M0.0,345.0 C1.2,345.1 5.0,345.2 7.5,345.7 C10.0,346.2 12.5,347.6 15.0,348.0 C17.5,348.4 20.0,348.5 22.5,348.2 C25.0,347.8 27.5,346.6 30.0,346.0 C32.5,345.4 35.0,345.3 37.5,344.6 C40.0,344.0 42.1,342.3 45.0,342.2 C47.9,342.1 52.1,343.8 55.0,344.0 C57.9,344.2 60.0,344.1 62.5,343.6 C65.0,343.0 67.5,341.3 70.0,340.8 C72.5,340.3 75.0,340.3 77.5,340.3 C80.0,340.3 82.5,341.3 85.0,341.0 C87.5,340.7 90.0,339.0 92.5,338.7 C95.0,338.5 97.5,339.3 100.0,339.3 C102.5,339.3 105.0,338.6 107.5,338.7 C110.0,338.7 112.5,339.5 115.0,339.6 C117.5,339.7 120.0,339.7 122.5,339.1 C125.0,338.6 127.5,337.1 130.0,336.4 C132.5,335.7 135.0,335.0 137.5,334.7 C140.0,334.5 142.5,334.9 145.0,334.8 C147.5,334.7 150.0,334.3 152.5,334.3 C155.0,334.3 157.5,334.8 160.0,335.0 C162.5,335.2 165.0,335.2 167.5,335.4 C170.0,335.6 172.5,336.2 175.0,336.4 C177.5,336.6 180.0,336.3 182.5,336.4 C185.0,336.5 187.5,337.0 190.0,337.0 C192.5,337.0 195.0,336.3 197.5,336.2 C200.0,336.0 202.6,336.0 205.0,336.0 C207.4,336.0 209.8,334.2 212.0,336.0 C214.2,337.8 216.0,340.8 218.0,346.5 C220.0,352.2 222.5,365.6 224.0,370.0 C225.5,374.4 225.8,375.5 227.0,373.0 C228.2,370.5 229.3,360.7 231.0,355.0 C232.7,349.3 235.0,340.6 237.0,338.6 C239.0,336.6 240.8,341.3 243.0,343.0 C245.2,344.7 248.0,346.6 250.0,349.0 C252.0,351.4 253.3,357.7 255.0,357.5 C256.7,357.3 258.1,350.8 260.0,348.0 C261.9,345.2 265.1,341.3 266.6,341.0 C268.1,340.7 268.1,344.0 269.0,346.0 C269.9,348.0 271.0,351.1 272.0,353.0 C273.0,354.9 273.8,357.3 275.0,357.6 C276.2,357.9 277.8,356.4 279.0,355.0 C280.2,353.6 281.0,350.8 282.0,349.0 C283.0,347.2 284.2,343.8 285.0,344.0 C285.8,344.2 286.2,347.3 287.0,350.0 C287.8,352.7 288.8,357.2 290.0,360.0 C291.2,362.8 292.3,365.5 294.0,367.0 C295.7,368.5 298.0,368.7 300.0,369.0 C302.0,369.3 304.0,369.7 306.0,369.0 C308.0,368.3 309.7,366.4 312.0,365.0 C314.3,363.6 317.0,362.9 320.0,360.4 C323.0,357.9 326.7,353.4 330.0,350.0 C333.3,346.6 336.7,343.8 340.0,340.0 C343.3,336.2 346.7,330.1 350.0,327.3 C353.3,324.5 356.7,323.4 360.0,323.0 C363.3,322.6 367.0,324.7 370.0,325.0 C373.0,325.3 376.7,325.0 378.0,325.0" fill="none" stroke="#ea6a22" stroke-width="3.2" stroke-linecap="round" stroke-linejoin="round"/>
<path d="M0.0,345.0 C1.2,345.5 5.0,347.6 7.5,348.1 C10.0,348.6 12.5,348.4 15.0,348.0 C17.5,347.6 20.0,346.0 22.5,345.7 C25.0,345.4 27.5,346.6 30.0,346.0 C32.5,345.4 35.0,342.9 37.5,342.2 C40.0,341.6 42.1,341.9 45.0,342.2 C47.9,342.5 52.1,343.7 55.0,344.0 C57.9,344.3 60.0,344.6 62.5,344.1 C65.0,343.6 67.5,341.1 70.0,340.8 C72.5,340.5 75.0,342.3 77.5,342.3 C80.0,342.4 82.5,341.1 85.0,341.0 C87.5,340.9 90.0,342.3 92.5,342.0 C95.0,341.7 97.5,339.8 100.0,339.3 C102.5,338.8 105.0,339.2 107.5,339.2 C110.0,339.3 112.5,339.5 115.0,339.6 C117.5,339.7 120.0,340.2 122.5,339.7 C125.0,339.2 127.5,336.8 130.0,336.4 C132.5,336.0 135.0,337.5 137.5,337.2 C140.0,337.0 142.5,335.4 145.0,334.8 C147.5,334.2 150.0,333.8 152.5,333.8 C155.0,333.9 157.5,334.5 160.0,335.0 C162.5,335.5 165.0,336.4 167.5,336.6 C170.0,336.9 172.5,336.2 175.0,336.4 C177.5,336.6 180.0,337.9 182.5,338.0 C185.0,338.1 187.5,337.1 190.0,337.0 C192.5,336.9 195.0,337.3 197.5,337.1 C200.0,337.0 202.6,336.2 205.0,336.0 C207.4,335.8 209.8,334.5 212.0,336.0 C214.2,337.5 216.0,339.7 218.0,345.0 C220.0,350.3 222.5,363.5 224.0,368.0 C225.5,372.5 225.8,374.0 227.0,372.0 C228.2,370.0 229.3,361.3 231.0,356.0 C232.7,350.7 235.0,341.8 237.0,340.0 C239.0,338.2 240.8,345.0 243.0,345.0 C245.2,345.0 247.7,340.0 250.0,340.0 C252.3,340.0 254.8,344.5 257.0,345.0 C259.2,345.5 261.2,342.5 263.0,343.0 C264.8,343.5 266.2,346.5 268.0,348.0 C269.8,349.5 272.0,351.7 274.0,352.0 C276.0,352.3 278.5,352.0 280.0,350.0 C281.5,348.0 282.1,342.5 283.0,340.0 C283.9,337.5 284.9,334.8 285.7,335.0 C286.5,335.2 287.3,338.7 288.0,341.0 C288.7,343.3 288.8,347.2 290.0,349.0 C291.2,350.8 293.3,351.2 295.0,352.0 C296.7,352.8 298.5,353.0 300.0,354.0 C301.5,355.0 302.3,356.7 304.0,358.0 C305.7,359.3 307.3,362.2 310.0,362.0 C312.7,361.8 316.7,359.8 320.0,357.0 C323.3,354.2 326.7,348.5 330.0,345.0 C333.3,341.5 336.7,338.8 340.0,336.0 C343.3,333.2 346.7,329.8 350.0,328.0 C353.3,326.2 356.7,324.2 360.0,325.0 C363.3,325.8 367.0,330.8 370.0,333.0 C373.0,335.2 376.7,337.2 378.0,338.0" fill="none" stroke="#ea6a22" stroke-width="3.2" stroke-linecap="round" stroke-linejoin="round" stroke-dasharray="11 8"/>
<text x="242.2" y="289.8" font-size="10.6" font-weight="bold" fill="#111" text-anchor="middle" >N1</text>
<text x="228.0" y="387.4" font-size="10.6" font-weight="bold" fill="#111" text-anchor="middle" >P1</text>
<text x="255.4" y="387.4" font-size="10.6" font-weight="bold" fill="#111" text-anchor="middle" >RT</text>
<text x="254.1" y="398.5" font-size="10.6" font-weight="bold" fill="#111" text-anchor="middle" >fast</text>
<text x="328.9" y="385.0" font-size="10.6" font-weight="bold" fill="#111" text-anchor="middle" >RT</text>
<text x="329.8" y="396.3" font-size="10.6" font-weight="bold" fill="#111" text-anchor="middle" >slow</text>
<line x1="264.0" y1="392.5" x2="275.1" y2="400.7" stroke="#111" stroke-width="1.15"/>
<polygon points="277.5,402.5 272.1,401.3 274.8,397.7" fill="#111"/>
<line x1="317.5" y1="380.5" x2="303.8" y2="399.6" stroke="#111" stroke-width="1.15"/>
<polygon points="302.0,402.0 303.1,396.6 306.8,399.2" fill="#111"/>
<text x="8.3" y="456.3" font-size="14.8" font-weight="bold" fill="#111" text-anchor="middle" >B</text>
<line x1="66.5" y1="509.1" x2="374.0" y2="509.1" stroke="#555" stroke-width="1.1" stroke-dasharray="2.3 2.3"/>
<line x1="56.7" y1="653.3" x2="374.0" y2="653.3" stroke="#222" stroke-width="1.1" stroke-dasharray="3 1.6"/>
<line x1="56.7" y1="769.4" x2="374.0" y2="769.4" stroke="#222" stroke-width="1.1" stroke-dasharray="3 1.6"/>
<line x1="286.0" y1="509.0" x2="286.0" y2="837.0" stroke="#222" stroke-width="1.3" stroke-dasharray="4.75 3.55" stroke-dashoffset="0.00"/>
<line x1="208" y1="482" x2="208" y2="837.5" stroke="#5a5a5a" stroke-width="1.1"/>
<line x1="5.5" y1="837.4" x2="374" y2="837.4" stroke="#111" stroke-width="1.3"/>
<line x1="6.1" y1="834.8" x2="6.1" y2="837.4" stroke="#111" stroke-width="0.9"/>
<line x1="24.5" y1="834.8" x2="24.5" y2="837.4" stroke="#111" stroke-width="0.9"/>
<line x1="42.9" y1="834.8" x2="42.9" y2="837.4" stroke="#111" stroke-width="0.9"/>
<line x1="61.3" y1="834.8" x2="61.3" y2="837.4" stroke="#111" stroke-width="0.9"/>
<line x1="79.8" y1="834.8" x2="79.8" y2="837.4" stroke="#111" stroke-width="0.9"/>
<line x1="98.2" y1="834.8" x2="98.2" y2="837.4" stroke="#111" stroke-width="0.9"/>
<line x1="116.6" y1="834.8" x2="116.6" y2="837.4" stroke="#111" stroke-width="0.9"/>
<line x1="135.0" y1="834.8" x2="135.0" y2="837.4" stroke="#111" stroke-width="0.9"/>
<line x1="153.4" y1="834.8" x2="153.4" y2="837.4" stroke="#111" stroke-width="0.9"/>
<line x1="171.9" y1="834.8" x2="171.9" y2="837.4" stroke="#111" stroke-width="0.9"/>
<line x1="190.3" y1="834.8" x2="190.3" y2="837.4" stroke="#111" stroke-width="0.9"/>
<line x1="208.7" y1="834.8" x2="208.7" y2="837.4" stroke="#111" stroke-width="0.9"/>
<line x1="227.1" y1="834.8" x2="227.1" y2="837.4" stroke="#111" stroke-width="0.9"/>
<line x1="245.5" y1="834.8" x2="245.5" y2="837.4" stroke="#111" stroke-width="0.9"/>
<line x1="264.0" y1="834.8" x2="264.0" y2="837.4" stroke="#111" stroke-width="0.9"/>
<line x1="282.4" y1="834.8" x2="282.4" y2="837.4" stroke="#111" stroke-width="0.9"/>
<line x1="300.8" y1="834.8" x2="300.8" y2="837.4" stroke="#111" stroke-width="0.9"/>
<line x1="319.2" y1="834.8" x2="319.2" y2="837.4" stroke="#111" stroke-width="0.9"/>
<line x1="337.6" y1="834.8" x2="337.6" y2="837.4" stroke="#111" stroke-width="0.9"/>
<line x1="356.1" y1="834.8" x2="356.1" y2="837.4" stroke="#111" stroke-width="0.9"/>
<line x1="374.5" y1="834.8" x2="374.5" y2="837.4" stroke="#111" stroke-width="0.9"/>
<text transform="translate(24.5,847.4) scale(0.9,1)" font-size="9.2" fill="#111" stroke="#111" stroke-width="0.22" text-anchor="middle">-1000</text>
<text transform="translate(61.3,847.4) scale(0.9,1)" font-size="9.2" fill="#111" stroke="#111" stroke-width="0.22" text-anchor="middle">-800</text>
<text transform="translate(98.2,847.4) scale(0.9,1)" font-size="9.2" fill="#111" stroke="#111" stroke-width="0.22" text-anchor="middle">-600</text>
<text transform="translate(135.0,847.4) scale(0.9,1)" font-size="9.2" fill="#111" stroke="#111" stroke-width="0.22" text-anchor="middle">-400</text>
<text transform="translate(171.9,847.4) scale(0.9,1)" font-size="9.2" fill="#111" stroke="#111" stroke-width="0.22" text-anchor="middle">-200</text>
<text transform="translate(208.7,847.4) scale(0.9,1)" font-size="9.2" fill="#111" stroke="#111" stroke-width="0.22" text-anchor="middle">0</text>
<text transform="translate(245.5,847.4) scale(0.9,1)" font-size="9.2" fill="#111" stroke="#111" stroke-width="0.22" text-anchor="middle">200</text>
<text transform="translate(282.4,847.4) scale(0.9,1)" font-size="9.2" fill="#111" stroke="#111" stroke-width="0.22" text-anchor="middle">400</text>
<text transform="translate(319.2,847.4) scale(0.9,1)" font-size="9.2" fill="#111" stroke="#111" stroke-width="0.22" text-anchor="middle">600</text>
<text transform="translate(356.1,847.4) scale(0.9,1)" font-size="9.2" fill="#111" stroke="#111" stroke-width="0.22" text-anchor="middle">800</text>
<text transform="translate(365,847.4) scale(0.9,1)" font-size="9.2" fill="#111" stroke="#111" stroke-width="0.22">ms</text>
<line x1="48.2" y1="482.1" x2="48.2" y2="534.6" stroke="#111" stroke-width="1.5"/>
<line x1="43.9" y1="482.1" x2="52.5" y2="482.1" stroke="#111" stroke-width="1.5"/>
<line x1="43.9" y1="534.6" x2="52.5" y2="534.6" stroke="#111" stroke-width="1.5"/>
<line x1="48.0" y1="626.0" x2="48.0" y2="678.5" stroke="#111" stroke-width="1.5"/>
<line x1="43.7" y1="626.0" x2="52.3" y2="626.0" stroke="#111" stroke-width="1.5"/>
<line x1="43.7" y1="678.5" x2="52.3" y2="678.5" stroke="#111" stroke-width="1.5"/>
<line x1="48.2" y1="744.4" x2="48.2" y2="797.2" stroke="#111" stroke-width="1.3"/>
<line x1="45.4" y1="744.4" x2="51.1" y2="744.4" stroke="#111" stroke-width="1.3"/>
<line x1="45.4" y1="797.2" x2="51.1" y2="797.2" stroke="#111" stroke-width="1.3"/>
<text x="48.5" y="478.2" font-size="10.8" font-weight="normal" fill="#1a1a1a" text-anchor="middle" stroke="#1a1a1a" stroke-width="0.25">-2&#8201;&#956;V</text>
<text x="49.5" y="546.2" font-size="10.8" font-weight="normal" fill="#1a1a1a" text-anchor="middle" stroke="#1a1a1a" stroke-width="0.25">+2&#8201;&#956;V</text>
<text x="20.3" y="501.3" font-size="12.0" font-weight="bold" fill="#111" text-anchor="middle" >AF4</text>
<text x="19.2" y="644.5" font-size="12.0" font-weight="bold" fill="#111" text-anchor="middle" >Cz</text>
<text x="20.3" y="759.5" font-size="11.6" font-weight="bold" fill="#111" text-anchor="middle" >PO8</text>
<rect x="67" y="542.5" width="120.7" height="39" rx="9" ry="9" fill="#fff" stroke="#111" stroke-width="1.4"/>
<text x="135.7" y="554.7" font-size="10.0" font-weight="bold" fill="#111" text-anchor="middle" >Go</text>
<text x="165.4" y="554.7" font-size="10.0" font-weight="bold" fill="#111" text-anchor="middle" >No-go</text>
<text x="70.4" y="566.0" font-size="10.4" font-weight="bold" fill="#1488d0" text-anchor="start" >Accurate</text>
<text x="69.9" y="578.0" font-size="10.1" font-weight="bold" fill="#d6141b" text-anchor="start" >Inaccurate</text>
<line x1="124.4" y1="561.4" x2="145.2" y2="561.4" stroke="#1488d0" stroke-width="2.2" stroke-linecap="round"/>
<line x1="151.6" y1="561.4" x2="164.2" y2="561.4" stroke="#1488d0" stroke-width="2.2" stroke-linecap="round"/>
<line x1="169.3" y1="561.4" x2="175.3" y2="561.4" stroke="#1488d0" stroke-width="2.2" stroke-linecap="round"/>
<line x1="124.4" y1="572.7" x2="145.2" y2="572.7" stroke="#d6141b" stroke-width="2.2" stroke-linecap="round"/>
<line x1="151.6" y1="572.7" x2="164.2" y2="572.7" stroke="#d6141b" stroke-width="2.2" stroke-linecap="round"/>
<line x1="169.3" y1="572.7" x2="175.3" y2="572.7" stroke="#d6141b" stroke-width="2.2" stroke-linecap="round"/>
<path d="M0.0,510.0 C1.1,509.9 4.4,509.8 6.7,509.4 C8.9,509.0 11.1,508.1 13.3,507.9 C15.6,507.6 17.6,508.2 20.0,508.0 C22.4,507.8 25.0,506.9 27.5,506.6 C30.0,506.4 32.8,506.5 35.0,506.5 C37.2,506.5 39.0,506.3 41.0,506.7 C43.0,507.1 44.9,509.3 47.0,509.0 C49.1,508.7 51.3,505.8 53.5,505.0 C55.7,504.1 57.8,504.3 60.0,503.8 C62.2,503.2 64.4,502.6 66.7,501.6 C68.9,500.6 71.1,498.8 73.3,497.9 C75.6,497.0 77.6,496.8 80.0,496.2 C82.4,495.6 85.0,495.3 87.5,494.3 C90.0,493.2 92.9,490.7 95.0,490.0 C97.1,489.3 97.9,490.7 100.0,490.0 C102.1,489.3 105.0,486.8 107.5,486.0 C110.0,485.3 112.5,485.6 115.0,485.5 C117.5,485.4 120.0,485.8 122.5,485.1 C125.0,484.5 127.5,482.4 130.0,481.7 C132.5,481.0 135.0,481.4 137.5,480.8 C140.0,480.3 142.5,478.7 145.0,478.5 C147.5,478.3 150.0,479.6 152.5,479.4 C155.0,479.1 157.5,477.3 160.0,477.0 C162.5,476.7 165.0,477.9 167.5,477.7 C170.0,477.4 172.5,475.2 175.0,475.3 C177.5,475.4 180.0,477.9 182.5,478.4 C185.0,479.0 187.5,478.3 190.0,478.5 C192.5,478.7 195.0,479.3 197.5,479.5 C200.0,479.8 202.1,479.6 205.0,480.0 C207.9,480.4 212.5,481.5 215.0,482.0 C217.5,482.5 218.3,483.9 220.0,483.0 C221.7,482.1 223.7,479.3 225.0,476.4 C226.3,473.5 226.8,465.2 228.0,465.8 C229.2,466.4 230.7,472.7 232.0,480.0 C233.3,487.3 234.7,501.9 236.0,509.4 C237.3,516.9 238.5,522.1 240.0,525.2 C241.5,528.3 243.0,527.0 245.0,527.8 C247.0,528.6 249.5,528.2 252.0,530.0 C254.5,531.8 257.0,535.9 260.0,538.4 C263.0,540.9 267.0,543.5 270.0,545.0 C273.0,546.5 275.8,548.5 278.0,547.6 C280.2,546.7 281.0,541.5 283.0,539.7 C285.0,537.9 287.2,537.0 290.0,537.0 C292.8,537.0 296.7,540.6 300.0,540.0 C303.3,539.4 306.5,537.0 310.0,533.3 C313.5,529.5 318.2,520.5 321.0,517.5 C323.8,514.5 325.3,514.3 327.0,515.0 C328.7,515.7 328.8,522.7 331.0,521.7 C333.2,520.7 337.2,512.1 340.0,509.0 C342.8,505.9 345.0,505.6 348.0,503.0 C351.0,500.4 354.8,495.8 358.0,493.5 C361.2,491.2 364.5,490.2 367.0,489.0 C369.5,487.8 372.0,486.5 373.0,486.0" fill="none" stroke="#d6141b" stroke-width="3.2" stroke-linecap="round" stroke-linejoin="round"/>
<path d="M0.0,510.0 C1.1,509.6 4.4,507.6 6.7,507.5 C8.9,507.4 11.1,509.5 13.3,509.6 C15.6,509.7 17.6,508.6 20.0,508.0 C22.4,507.4 25.0,506.3 27.5,506.0 C30.0,505.8 32.8,506.3 35.0,506.5 C37.2,506.7 39.0,506.6 41.0,507.0 C43.0,507.4 44.9,509.0 47.0,509.0 C49.1,509.0 51.3,508.1 53.5,507.2 C55.7,506.4 57.8,504.8 60.0,503.8 C62.2,502.8 64.4,502.3 66.7,501.4 C68.9,500.6 71.1,499.4 73.3,498.5 C75.6,497.7 77.6,497.0 80.0,496.4 C82.4,495.8 85.0,496.1 87.5,495.1 C90.0,494.1 92.9,491.2 95.0,490.4 C97.1,489.6 97.9,490.4 100.0,490.0 C102.1,489.6 105.0,488.9 107.5,488.2 C110.0,487.4 112.5,486.4 115.0,485.5 C117.5,484.6 120.0,483.6 122.5,483.0 C125.0,482.4 127.5,482.3 130.0,481.7 C132.5,481.1 135.0,479.7 137.5,479.2 C140.0,478.6 142.5,478.5 145.0,478.5 C147.5,478.5 150.0,479.4 152.5,479.1 C155.0,478.9 157.5,477.5 160.0,477.0 C162.5,476.5 165.0,476.3 167.5,476.1 C170.0,475.8 172.5,475.0 175.0,475.3 C177.5,475.6 180.0,477.4 182.5,478.0 C185.0,478.5 187.5,478.4 190.0,478.5 C192.5,478.6 195.0,478.4 197.5,478.7 C200.0,478.9 202.1,479.4 205.0,480.0 C207.9,480.6 212.5,481.5 215.0,482.0 C217.5,482.5 218.3,484.0 220.0,483.0 C221.7,482.0 223.7,478.8 225.0,476.0 C226.3,473.2 226.8,465.3 228.0,466.0 C229.2,466.7 230.7,472.8 232.0,480.0 C233.3,487.2 234.7,502.0 236.0,509.0 C237.3,516.0 238.5,520.2 240.0,522.0 C241.5,523.8 243.1,521.2 245.0,520.0 C246.9,518.8 249.3,516.1 251.5,514.5 C253.7,513.0 255.6,510.2 258.0,510.7 C260.4,511.2 263.5,514.2 266.0,517.3 C268.5,520.3 270.7,525.2 273.0,529.0 C275.3,532.8 277.2,539.1 280.0,540.0 C282.8,540.9 286.7,534.8 290.0,534.4 C293.3,534.0 296.7,538.1 300.0,537.7 C303.3,537.3 307.0,533.3 310.0,532.0 C313.0,530.7 315.2,532.5 318.0,530.0 C320.8,527.5 324.4,520.2 327.0,517.0 C329.6,513.8 331.3,513.1 333.5,511.1 C335.7,509.1 337.9,506.9 340.0,505.0 C342.1,503.1 344.0,501.7 346.0,499.6 C348.0,497.5 349.2,495.8 352.0,492.5 C354.8,489.2 359.0,483.3 362.5,480.0 C366.0,476.7 371.2,473.9 373.0,472.7" fill="none" stroke="#d6141b" stroke-width="3.2" stroke-linecap="round" stroke-linejoin="round" stroke-dasharray="11 8"/>
<path d="M0.0,510.0 C1.1,509.7 4.4,508.1 6.7,508.1 C8.9,508.0 11.1,509.8 13.3,509.8 C15.6,509.8 17.6,508.2 20.0,508.0 C22.4,507.8 25.0,509.1 27.5,508.9 C30.0,508.6 32.8,506.5 35.0,506.5 C37.2,506.5 39.0,508.5 41.0,508.9 C43.0,509.3 44.9,509.2 47.0,509.0 C49.1,508.8 51.3,508.6 53.5,507.8 C55.7,507.1 57.8,505.6 60.0,504.4 C62.2,503.2 64.4,501.3 66.7,500.9 C68.9,500.4 71.1,501.8 73.3,501.6 C75.6,501.3 77.6,499.9 80.0,499.4 C82.4,498.9 85.0,499.4 87.5,498.8 C90.0,498.1 92.9,496.0 95.0,495.4 C97.1,494.8 97.9,495.6 100.0,495.0 C102.1,494.4 105.0,492.3 107.5,491.8 C110.0,491.3 112.5,492.3 115.0,492.0 C117.5,491.7 120.0,490.5 122.5,490.1 C125.0,489.8 127.5,490.3 130.0,490.0 C132.5,489.7 135.0,488.8 137.5,488.6 C140.0,488.5 142.5,489.0 145.0,489.0 C147.5,489.0 150.0,488.8 152.5,488.6 C155.0,488.4 157.5,488.2 160.0,488.0 C162.5,487.8 165.0,487.4 167.5,487.2 C170.0,487.0 172.5,486.7 175.0,487.0 C177.5,487.3 180.0,488.2 182.5,488.9 C185.0,489.6 187.5,490.5 190.0,491.0 C192.5,491.5 195.0,492.1 197.5,492.1 C200.0,492.1 202.1,491.3 205.0,491.0 C207.9,490.7 212.5,489.7 215.0,490.0 C217.5,490.3 218.7,493.9 220.0,493.0 C221.3,492.1 221.8,489.3 223.0,484.3 C224.2,479.3 225.8,466.2 227.0,463.2 C228.2,460.1 229.0,461.6 230.0,466.0 C231.0,470.4 231.8,481.5 233.0,489.6 C234.2,497.7 235.8,508.0 237.0,514.6 C238.2,521.2 238.7,525.7 240.0,529.0 C241.3,532.3 243.3,533.7 245.0,534.4 C246.7,535.1 248.3,532.1 250.0,533.0 C251.7,533.9 253.0,536.2 255.0,539.7 C257.0,543.2 259.5,550.3 262.0,554.0 C264.5,557.7 267.3,561.0 270.0,562.0 C272.7,563.0 275.5,561.7 278.0,560.0 C280.5,558.3 282.7,555.5 285.0,552.0 C287.3,548.5 289.5,543.1 292.0,539.0 C294.5,534.9 297.0,530.7 300.0,527.6 C303.0,524.5 306.5,523.5 310.0,520.4 C313.5,517.3 317.5,511.6 321.0,509.0 C324.5,506.4 327.7,506.7 331.0,505.0 C334.3,503.3 337.1,500.1 340.6,498.8 C344.1,497.4 348.7,498.3 352.0,496.7 C355.3,495.1 357.9,491.3 360.4,489.4 C362.8,487.5 364.6,486.3 366.7,485.4 C368.8,484.5 371.9,484.2 373.0,484.0" fill="none" stroke="#1488d0" stroke-width="3.2" stroke-linecap="round" stroke-linejoin="round"/>
<path d="M0.0,510.0 C1.1,509.6 4.4,508.1 6.7,507.6 C8.9,507.2 11.1,507.2 13.3,507.2 C15.6,507.3 17.6,508.2 20.0,508.0 C22.4,507.8 25.0,506.1 27.5,505.8 C30.0,505.6 32.8,506.5 35.0,506.5 C37.2,506.5 39.0,505.7 41.0,506.1 C43.0,506.5 44.9,508.6 47.0,509.0 C49.1,509.4 51.3,509.2 53.5,508.4 C55.7,507.6 57.8,505.2 60.0,504.5 C62.2,503.8 64.4,505.0 66.7,504.2 C68.9,503.4 71.1,500.5 73.3,499.7 C75.6,499.0 77.6,500.0 80.0,499.7 C82.4,499.4 85.0,498.4 87.5,497.7 C90.0,497.0 92.9,496.2 95.0,495.7 C97.1,495.2 97.9,495.5 100.0,495.0 C102.1,494.5 105.0,493.3 107.5,492.8 C110.0,492.3 112.5,492.4 115.0,492.0 C117.5,491.6 120.0,490.6 122.5,490.3 C125.0,490.0 127.5,490.2 130.0,490.0 C132.5,489.8 135.0,489.1 137.5,488.9 C140.0,488.8 142.5,489.0 145.0,489.0 C147.5,489.0 150.0,489.2 152.5,489.1 C155.0,488.9 157.5,488.2 160.0,488.0 C162.5,487.8 165.0,488.0 167.5,487.8 C170.0,487.7 172.5,486.9 175.0,487.0 C177.5,487.1 180.0,487.8 182.5,488.5 C185.0,489.1 187.5,490.8 190.0,491.0 C192.5,491.2 195.0,489.8 197.5,489.8 C200.0,489.8 202.1,491.0 205.0,491.0 C207.9,491.0 212.5,489.7 215.0,490.0 C217.5,490.3 218.7,494.0 220.0,493.0 C221.3,492.0 221.8,489.0 223.0,484.0 C224.2,479.0 225.8,466.0 227.0,463.0 C228.2,460.0 229.0,461.5 230.0,466.0 C231.0,470.5 231.8,482.0 233.0,490.0 C234.2,498.0 235.8,507.7 237.0,514.0 C238.2,520.3 237.8,527.8 240.0,528.0 C242.2,528.2 247.0,518.5 250.0,515.0 C253.0,511.4 255.8,507.9 258.0,506.7 C260.2,505.5 261.0,506.6 263.0,508.0 C265.0,509.4 268.0,511.7 270.0,515.0 C272.0,518.3 273.3,523.8 275.0,528.0 C276.7,532.2 277.8,535.8 280.0,540.0 C282.2,544.2 285.5,550.5 288.0,553.0 C290.5,555.5 292.2,557.1 295.0,555.0 C297.8,552.9 301.7,546.0 305.0,540.5 C308.3,535.0 311.7,527.1 315.0,521.8 C318.3,516.5 321.7,512.0 325.0,508.9 C328.3,505.8 331.9,504.4 335.0,503.0 C338.1,501.6 340.7,501.2 343.5,500.5 C346.3,499.9 349.2,500.8 352.0,499.0 C354.8,497.2 357.5,492.2 360.0,490.0 C362.5,487.8 364.8,487.2 367.0,486.0 C369.2,484.8 372.0,483.5 373.0,483.0" fill="none" stroke="#1488d0" stroke-width="3.2" stroke-linecap="round" stroke-linejoin="round" stroke-dasharray="11 8"/>
<text x="161.7" y="467.4" font-size="10.6" font-weight="bold" fill="#111" text-anchor="middle" >pN</text>
<text x="241.5" y="549.8" font-size="10.6" font-weight="bold" fill="#111" text-anchor="middle" >pP</text>
<path d="M0.0,651.0 C1.1,650.9 4.4,650.0 6.7,650.2 C8.9,650.5 11.1,652.1 13.3,652.5 C15.6,653.0 17.8,652.8 20.0,653.0 C22.2,653.2 24.5,653.9 26.8,653.8 C29.0,653.7 31.2,652.9 33.5,652.5 C35.8,652.1 38.0,651.3 40.2,651.4 C42.5,651.5 44.5,653.2 47.0,653.0 C49.5,652.8 52.0,650.0 55.0,650.0 C58.0,650.0 61.7,652.8 65.0,653.0 C68.3,653.2 71.7,652.3 75.0,651.5 C78.3,650.7 82.5,648.4 85.0,648.0 C87.5,647.6 87.5,649.4 90.0,649.0 C92.5,648.6 97.1,646.7 100.0,645.4 C102.9,644.1 105.0,642.4 107.5,641.5 C110.0,640.6 112.5,640.9 115.0,640.0 C117.5,639.1 120.0,637.1 122.5,635.9 C125.0,634.7 127.5,633.7 130.0,632.7 C132.5,631.7 135.0,631.0 137.5,629.9 C140.0,628.9 142.5,627.2 145.0,626.4 C147.5,625.6 150.0,626.0 152.5,625.3 C155.0,624.5 157.5,622.7 160.0,622.0 C162.5,621.3 165.0,621.2 167.5,621.0 C170.0,620.9 172.5,620.9 175.0,621.0 C177.5,621.1 180.0,621.8 182.5,621.6 C185.0,621.5 187.8,620.0 190.0,620.0 C192.2,620.0 194.0,621.2 196.0,621.5 C198.0,621.8 200.0,621.5 202.0,621.7 C204.0,622.0 206.0,622.6 208.0,623.0 C210.0,623.4 212.0,623.7 214.0,624.2 C216.0,624.7 218.2,624.6 220.0,626.0 C221.8,627.4 223.3,629.5 225.0,632.8 C226.7,636.1 228.5,642.9 230.0,646.0 C231.5,649.1 232.7,653.4 234.0,651.2 C235.3,649.0 236.5,641.1 238.0,632.8 C239.5,624.4 241.3,607.9 243.0,601.1 C244.7,594.3 246.5,592.1 248.0,591.9 C249.5,591.7 250.5,595.1 252.0,600.0 C253.5,604.9 255.3,614.2 257.0,621.0 C258.7,627.8 260.2,633.5 262.0,640.7 C263.8,647.9 266.0,656.9 268.0,664.4 C270.0,671.9 272.3,681.9 274.0,686.0 C275.7,690.1 276.7,688.0 278.0,689.0 C279.3,690.0 280.7,690.2 282.0,692.0 C283.3,693.8 284.3,697.3 286.0,700.0 C287.7,702.7 289.7,705.3 292.0,708.0 C294.3,710.7 297.8,715.0 300.0,716.0 C302.2,717.0 302.8,715.2 305.0,714.0 C307.2,712.8 310.4,711.3 313.0,708.5 C315.6,705.7 317.7,701.2 320.6,697.0 C323.5,692.8 327.8,687.6 330.4,683.0 C333.0,678.4 334.0,674.3 336.3,669.5 C338.6,664.7 341.1,658.6 344.0,654.0 C346.9,649.4 351.4,645.6 353.8,642.0 C356.2,638.4 356.8,634.7 358.7,632.3 C360.6,629.9 363.1,628.3 365.5,627.5 C367.9,626.7 371.8,627.5 373.0,627.5" fill="none" stroke="#d6141b" stroke-width="3.2" stroke-linecap="round" stroke-linejoin="round"/>
<path d="M0.0,651.0 C1.1,651.1 4.4,651.3 6.7,651.7 C8.9,652.0 11.1,652.9 13.3,653.1 C15.6,653.3 17.8,653.1 20.0,653.0 C22.2,652.9 24.5,652.6 26.8,652.7 C29.0,652.8 31.2,653.7 33.5,653.7 C35.8,653.8 38.0,653.0 40.2,652.9 C42.5,652.7 44.5,653.5 47.0,653.0 C49.5,652.5 52.0,650.0 55.0,650.0 C58.0,650.0 61.7,652.8 65.0,653.0 C68.3,653.2 71.7,652.3 75.0,651.5 C78.3,650.7 82.5,648.4 85.0,648.0 C87.5,647.6 87.5,649.4 90.0,649.0 C92.5,648.6 97.1,646.6 100.0,645.4 C102.9,644.2 105.0,642.6 107.5,641.7 C110.0,640.8 112.5,640.9 115.0,640.0 C117.5,639.1 120.0,637.7 122.5,636.5 C125.0,635.3 127.5,633.7 130.0,632.7 C132.5,631.7 135.0,631.3 137.5,630.3 C140.0,629.2 142.5,627.7 145.0,626.4 C147.5,625.1 150.0,623.3 152.5,622.6 C155.0,621.8 157.5,622.2 160.0,622.0 C162.5,621.8 165.0,621.4 167.5,621.2 C170.0,621.0 172.5,621.2 175.0,621.0 C177.5,620.8 180.0,620.4 182.5,620.2 C185.0,620.1 187.8,619.6 190.0,620.0 C192.2,620.4 194.0,621.8 196.0,622.4 C198.0,623.1 200.0,623.6 202.0,623.7 C204.0,623.8 206.0,622.9 208.0,623.0 C210.0,623.1 212.0,623.7 214.0,624.2 C216.0,624.7 218.2,624.7 220.0,626.0 C221.8,627.3 223.3,628.8 225.0,632.0 C226.7,635.2 228.5,642.0 230.0,645.0 C231.5,648.0 232.7,652.2 234.0,650.0 C235.3,647.8 236.5,640.3 238.0,632.0 C239.5,623.7 241.0,608.5 243.0,600.0 C245.0,591.5 248.0,582.9 250.0,581.3 C252.0,579.7 253.3,585.8 255.0,590.6 C256.7,595.4 258.3,603.4 260.0,610.0 C261.7,616.6 263.3,621.8 265.0,630.0 C266.7,638.2 268.0,649.2 270.0,659.2 C272.0,669.2 274.8,681.5 277.0,690.0 C279.2,698.5 280.8,704.1 283.0,710.0 C285.2,715.9 287.7,722.0 290.0,725.4 C292.3,728.8 294.8,730.3 297.0,730.6 C299.2,730.9 300.8,729.6 303.0,727.0 C305.2,724.4 307.2,719.8 310.0,715.0 C312.8,710.2 316.7,703.2 320.0,698.0 C323.3,692.8 326.7,689.0 330.0,684.0 C333.3,679.0 337.0,673.0 340.0,668.0 C343.0,663.0 345.5,657.8 348.0,654.0 C350.5,650.2 352.6,647.3 354.8,645.0 C357.0,642.7 358.7,641.5 361.0,640.0 C363.3,638.5 367.2,636.7 368.5,636.0" fill="none" stroke="#d6141b" stroke-width="3.2" stroke-linecap="round" stroke-linejoin="round" stroke-dasharray="11 8"/>
<path d="M0.0,651.0 C1.1,651.4 4.4,652.8 6.7,653.2 C8.9,653.6 11.1,653.5 13.3,653.4 C15.6,653.4 17.8,653.2 20.0,653.0 C22.2,652.8 24.5,652.1 26.8,652.1 C29.0,652.1 31.2,653.0 33.5,652.9 C35.8,652.8 38.0,651.5 40.2,651.6 C42.5,651.6 44.5,653.3 47.0,653.0 C49.5,652.7 52.0,650.0 55.0,650.0 C58.0,650.0 61.7,652.8 65.0,653.0 C68.3,653.2 71.7,652.3 75.0,651.5 C78.3,650.7 82.5,648.7 85.0,648.0 C87.5,647.3 87.5,648.5 90.0,647.5 C92.5,646.5 97.1,643.7 100.0,642.2 C102.9,640.7 105.0,640.2 107.5,638.6 C110.0,637.1 112.5,634.0 115.0,632.7 C117.5,631.4 120.0,631.6 122.5,630.7 C125.0,629.8 127.5,628.2 130.0,627.4 C132.5,626.6 135.0,627.0 137.5,626.0 C140.0,625.1 142.5,622.0 145.0,621.7 C147.5,621.4 150.0,623.6 152.5,624.0 C155.0,624.3 157.5,624.1 160.0,624.0 C162.5,623.9 165.0,624.0 167.5,623.6 C170.0,623.3 172.5,622.1 175.0,622.0 C177.5,621.9 180.0,622.9 182.5,622.9 C185.0,622.9 187.8,622.1 190.0,622.0 C192.2,621.9 194.0,622.7 196.0,622.6 C198.0,622.4 200.0,621.1 202.0,621.2 C204.0,621.2 206.0,622.5 208.0,623.0 C210.0,623.5 212.0,623.9 214.0,624.2 C216.0,624.6 218.2,625.4 220.0,625.0 C221.8,624.6 223.5,625.1 225.0,622.0 C226.5,618.9 227.7,607.9 229.0,606.4 C230.3,604.9 231.7,608.2 233.0,613.0 C234.3,617.8 235.8,631.0 237.0,635.4 C238.2,639.8 238.7,640.0 240.0,639.4 C241.3,638.8 243.3,633.7 245.0,631.5 C246.7,629.3 248.0,627.8 250.0,626.2 C252.0,624.7 255.0,621.8 257.0,622.2 C259.0,622.6 260.5,624.2 262.0,628.8 C263.5,633.4 264.7,643.2 266.0,650.0 C267.3,656.8 268.2,662.6 270.0,669.7 C271.8,676.8 274.8,686.1 277.0,692.7 C279.2,699.3 281.3,705.0 283.0,709.5 C284.7,714.0 285.3,717.2 287.0,720.0 C288.7,722.8 291.2,724.8 293.0,726.4 C294.8,728.0 296.5,729.5 298.0,729.6 C299.5,729.7 300.8,728.9 302.0,727.0 C303.2,725.1 302.9,722.0 305.0,718.0 C307.1,714.0 311.6,709.2 314.8,702.7 C318.1,696.2 321.2,686.5 324.5,679.0 C327.8,671.5 331.7,662.2 334.3,657.7 C336.9,653.2 338.1,654.3 340.0,652.0 C341.9,649.7 344.0,647.0 346.0,644.0 C348.0,641.0 349.3,637.2 351.9,634.3 C354.5,631.4 358.1,629.0 361.6,626.5 C365.1,624.0 371.1,620.2 373.0,619.0" fill="none" stroke="#1488d0" stroke-width="3.2" stroke-linecap="round" stroke-linejoin="round"/>
<path d="M0.0,651.0 C1.1,650.8 4.4,649.8 6.7,649.8 C8.9,649.8 11.1,650.4 13.3,651.0 C15.6,651.5 17.8,652.5 20.0,653.0 C22.2,653.5 24.5,654.3 26.8,654.0 C29.0,653.8 31.2,651.7 33.5,651.3 C35.8,650.8 38.0,651.2 40.2,651.4 C42.5,651.7 44.5,653.2 47.0,653.0 C49.5,652.8 52.0,650.0 55.0,650.0 C58.0,650.0 61.7,652.8 65.0,653.0 C68.3,653.2 71.7,652.3 75.0,651.5 C78.3,650.7 82.5,648.7 85.0,648.0 C87.5,647.3 87.5,648.5 90.0,647.5 C92.5,646.5 97.1,644.1 100.0,642.2 C102.9,640.3 105.0,637.5 107.5,635.9 C110.0,634.3 112.5,633.4 115.0,632.7 C117.5,632.0 120.0,632.4 122.5,631.5 C125.0,630.6 127.5,628.8 130.0,627.4 C132.5,626.0 135.0,624.3 137.5,623.3 C140.0,622.4 142.5,622.1 145.0,621.7 C147.5,621.3 150.0,620.7 152.5,621.0 C155.0,621.4 157.5,623.5 160.0,624.0 C162.5,624.5 165.0,624.6 167.5,624.3 C170.0,624.0 172.5,622.6 175.0,622.0 C177.5,621.4 180.0,620.6 182.5,620.6 C185.0,620.6 187.8,621.5 190.0,622.0 C192.2,622.5 194.0,623.4 196.0,623.6 C198.0,623.9 200.0,623.4 202.0,623.3 C204.0,623.2 206.0,622.7 208.0,623.0 C210.0,623.3 212.0,624.6 214.0,624.9 C216.0,625.2 217.5,628.0 220.0,625.0 C222.5,622.0 226.8,609.0 229.0,607.0 C231.2,605.0 231.7,608.5 233.0,613.0 C234.3,617.5 235.8,631.2 237.0,634.0 C238.2,636.8 238.7,632.2 240.0,630.0 C241.3,627.8 243.0,624.3 245.0,621.0 C247.0,617.7 249.8,613.0 252.0,610.3 C254.2,607.6 256.3,604.3 258.0,605.0 C259.7,605.7 260.7,608.3 262.0,614.3 C263.3,620.2 264.7,632.4 266.0,640.7 C267.3,649.1 268.5,657.0 270.0,664.4 C271.5,671.8 273.3,678.2 275.0,685.0 C276.7,691.8 278.3,698.2 280.0,705.0 C281.7,711.8 283.3,720.8 285.0,726.0 C286.7,731.2 288.3,734.0 290.0,736.0 C291.7,738.0 293.3,738.8 295.0,738.0 C296.7,737.2 298.2,735.3 300.0,731.0 C301.8,726.7 303.7,718.8 306.0,712.0 C308.3,705.2 311.4,697.3 314.0,690.0 C316.6,682.7 318.7,673.0 321.4,668.0 C324.1,663.0 327.6,661.9 330.0,660.0 C332.4,658.1 334.0,658.2 336.0,656.7 C338.0,655.2 339.3,652.5 342.0,651.0 C344.7,649.5 348.7,649.3 352.0,648.0 C355.3,646.7 358.9,644.0 361.6,643.0 C364.4,642.0 366.5,643.0 368.5,642.0 C370.5,641.0 372.6,637.8 373.4,637.0" fill="none" stroke="#1488d0" stroke-width="3.2" stroke-linecap="round" stroke-linejoin="round" stroke-dasharray="11 8"/>
<text x="174.7" y="610.6" font-size="10.6" font-weight="bold" fill="#111" text-anchor="middle" >BP</text>
<text x="250.3" y="574.8" font-size="10.6" font-weight="bold" fill="#111" text-anchor="middle" >N2</text>
<path d="M0.0,768.2 C1.1,768.2 4.4,768.3 6.7,768.4 C8.9,768.6 11.1,769.3 13.3,769.2 C15.6,769.1 17.8,768.6 20.0,768.0 C22.2,767.4 24.4,765.7 26.7,765.6 C28.9,765.6 31.1,767.7 33.3,767.8 C35.6,767.9 37.2,766.5 40.0,766.2 C42.8,765.9 46.7,766.6 50.0,766.0 C53.3,765.4 56.7,762.5 60.0,762.4 C63.3,762.3 66.7,765.4 70.0,765.3 C73.3,765.1 77.1,762.2 80.0,761.5 C82.9,760.8 85.0,761.4 87.5,761.3 C90.0,761.2 92.5,761.0 95.0,761.0 C97.5,761.0 100.0,761.3 102.5,761.1 C105.0,760.8 107.9,760.0 110.0,759.5 C112.1,759.0 112.9,758.8 115.0,758.0 C117.1,757.2 120.0,755.4 122.5,754.9 C125.0,754.4 127.5,754.8 130.0,754.8 C132.5,754.8 135.0,755.0 137.5,754.6 C140.0,754.3 142.5,752.5 145.0,752.6 C147.5,752.7 150.0,755.0 152.5,755.4 C155.0,755.7 157.5,755.0 160.0,754.8 C162.5,754.6 165.0,753.9 167.5,754.2 C170.0,754.6 172.5,756.3 175.0,757.0 C177.5,757.7 180.0,757.7 182.5,758.4 C185.0,759.1 187.5,761.0 190.0,761.2 C192.5,761.4 195.0,760.0 197.5,759.3 C200.0,758.6 202.6,757.4 205.0,757.0 C207.4,756.6 209.8,755.0 212.0,757.0 C214.2,759.0 216.3,763.7 218.0,769.0 C219.7,774.3 220.5,781.5 222.0,789.0 C223.5,796.5 225.3,813.5 227.0,814.0 C228.7,814.5 230.3,801.2 232.0,792.0 C233.7,782.8 235.7,766.4 237.0,758.6 C238.3,750.8 238.7,745.0 240.0,745.4 C241.3,745.8 243.3,755.3 245.0,761.0 C246.7,766.7 248.3,777.2 250.0,779.7 C251.7,782.2 253.3,778.9 255.0,775.8 C256.7,772.7 258.3,761.1 260.0,761.0 C261.7,760.9 262.9,769.3 265.0,775.0 C267.1,780.7 270.7,792.2 272.5,795.0 C274.3,797.8 274.8,794.3 276.0,792.0 C277.2,789.7 278.4,782.3 279.6,781.0 C280.8,779.7 281.7,780.6 283.0,784.0 C284.3,787.4 286.2,798.3 287.5,801.5 C288.8,804.7 289.2,803.4 291.0,803.0 C292.8,802.6 295.5,801.7 298.0,799.0 C300.5,796.3 303.3,790.7 306.0,787.0 C308.7,783.3 311.2,780.7 314.0,777.0 C316.8,773.3 320.0,768.3 323.0,765.0 C326.0,761.7 329.4,758.7 332.0,757.0 C334.6,755.3 336.3,755.8 338.5,754.7 C340.7,753.7 342.1,752.0 345.0,750.7 C347.9,749.4 353.3,747.6 356.0,746.7 C358.7,745.8 359.2,745.3 361.0,745.4 C362.8,745.5 365.0,746.2 367.0,747.0 C369.0,747.8 372.0,749.5 373.0,750.0" fill="none" stroke="#1488d0" stroke-width="3.2" stroke-linecap="round" stroke-linejoin="round"/>
<path d="M0.0,768.2 C1.1,768.0 4.4,767.1 6.7,766.9 C8.9,766.7 11.1,766.9 13.3,767.1 C15.6,767.3 17.8,767.9 20.0,768.0 C22.2,768.1 24.4,767.9 26.7,767.8 C28.9,767.8 31.1,768.0 33.3,767.8 C35.6,767.5 37.2,766.5 40.0,766.2 C42.8,765.9 46.7,766.6 50.0,766.0 C53.3,765.4 56.7,762.5 60.0,762.4 C63.3,762.3 66.7,765.4 70.0,765.3 C73.3,765.1 77.1,762.2 80.0,761.5 C82.9,760.8 85.0,760.9 87.5,760.8 C90.0,760.8 92.5,761.2 95.0,761.0 C97.5,760.8 100.0,760.0 102.5,759.7 C105.0,759.5 107.9,759.8 110.0,759.5 C112.1,759.2 112.9,758.6 115.0,758.0 C117.1,757.4 120.0,756.5 122.5,756.0 C125.0,755.5 127.5,755.3 130.0,754.8 C132.5,754.3 135.0,753.5 137.5,753.1 C140.0,752.8 142.5,752.6 145.0,752.6 C147.5,752.6 150.0,753.0 152.5,753.4 C155.0,753.8 157.5,754.6 160.0,754.8 C162.5,755.0 165.0,753.9 167.5,754.3 C170.0,754.7 172.5,756.2 175.0,757.0 C177.5,757.8 180.0,758.4 182.5,759.1 C185.0,759.8 187.5,760.9 190.0,761.2 C192.5,761.5 195.0,761.6 197.5,760.9 C200.0,760.2 202.6,757.6 205.0,757.0 C207.4,756.4 209.8,755.2 212.0,757.0 C214.2,758.8 216.3,763.3 218.0,768.0 C219.7,772.7 220.5,779.2 222.0,785.0 C223.5,790.8 225.3,802.5 227.0,803.0 C228.7,803.5 230.3,795.2 232.0,788.0 C233.7,780.8 235.7,766.7 237.0,760.0 C238.3,753.3 238.7,747.2 240.0,748.0 C241.3,748.8 243.3,758.8 245.0,765.0 C246.7,771.2 248.3,784.2 250.0,785.0 C251.7,785.8 253.0,773.3 255.0,770.0 C257.0,766.7 259.8,762.5 262.0,765.0 C264.2,767.5 266.0,782.1 268.0,785.0 C270.0,787.9 271.9,785.3 274.0,782.5 C276.1,779.7 278.8,771.0 280.4,768.0 C282.0,765.0 282.3,763.5 283.5,764.3 C284.7,765.1 285.9,769.7 287.5,773.0 C289.1,776.3 291.4,782.3 293.0,784.0 C294.6,785.7 294.4,784.4 297.0,783.0 C299.6,781.6 305.4,777.7 308.7,775.5 C312.0,773.3 313.6,772.6 316.6,770.0 C319.7,767.4 323.6,762.8 327.0,759.8 C330.4,756.8 333.5,754.0 337.0,752.0 C340.5,750.0 344.8,748.7 348.0,748.0 C351.2,747.3 353.4,746.2 356.0,748.0 C358.6,749.8 361.7,756.2 363.5,758.5 C365.3,760.8 366.4,761.4 367.0,762.0" fill="none" stroke="#1488d0" stroke-width="3.2" stroke-linecap="round" stroke-linejoin="round" stroke-dasharray="11 8"/>
<path d="M0.0,769.7 C1.1,769.7 4.4,769.5 6.7,769.8 C8.9,770.1 11.1,771.3 13.3,771.5 C15.6,771.7 17.8,771.5 20.0,771.0 C22.2,770.5 24.4,769.0 26.7,768.8 C28.9,768.6 31.1,770.0 33.3,769.9 C35.6,769.8 37.2,768.5 40.0,768.2 C42.8,767.9 47.2,767.3 50.0,768.0 C52.8,768.7 54.5,772.1 57.0,772.6 C59.5,773.1 62.4,770.9 65.0,771.0 C67.6,771.1 70.0,772.6 72.5,773.0 C75.0,773.3 77.5,773.1 80.0,773.0 C82.5,772.9 85.0,773.0 87.5,772.7 C90.0,772.3 92.9,771.6 95.0,771.0 C97.1,770.4 97.9,769.5 100.0,769.0 C102.1,768.5 105.0,768.4 107.5,768.1 C110.0,767.7 112.5,767.5 115.0,767.0 C117.5,766.5 120.0,765.8 122.5,765.3 C125.0,764.7 127.5,764.0 130.0,763.7 C132.5,763.4 135.0,763.7 137.5,763.4 C140.0,763.1 142.5,762.1 145.0,762.0 C147.5,761.9 150.0,763.0 152.5,762.8 C155.0,762.5 157.5,761.1 160.0,760.5 C162.5,759.9 165.0,759.0 167.5,758.9 C170.0,758.8 172.5,760.1 175.0,760.0 C177.5,759.9 180.0,758.3 182.5,758.3 C185.0,758.2 187.5,759.4 190.0,759.6 C192.5,759.8 195.0,759.7 197.5,759.2 C200.0,758.8 202.6,757.7 205.0,757.0 C207.4,756.3 210.3,754.2 212.0,755.0 C213.7,755.8 213.7,758.5 215.0,762.0 C216.3,765.5 218.3,772.2 220.0,775.8 C221.7,779.4 223.3,785.5 225.0,783.7 C226.7,781.9 228.2,772.7 230.0,765.0 C231.8,757.3 234.0,745.4 236.0,737.5 C238.0,729.6 240.2,719.8 242.0,717.7 C243.8,715.6 245.3,720.6 247.0,725.0 C248.7,729.4 250.2,740.2 252.0,744.0 C253.8,747.8 255.8,744.2 258.0,748.0 C260.2,751.8 263.4,761.2 265.3,766.7 C267.2,772.2 268.1,777.6 269.3,781.0 C270.5,784.4 271.3,785.4 272.5,787.2 C273.7,789.0 275.1,792.5 276.4,792.0 C277.7,791.5 279.2,785.8 280.4,784.0 C281.6,782.2 282.3,780.2 283.5,781.0 C284.7,781.8 286.3,786.7 287.5,788.8 C288.7,790.9 288.9,792.9 290.7,793.6 C292.4,794.3 295.4,792.8 298.0,793.0 C300.6,793.2 303.3,794.2 306.0,795.0 C308.7,795.8 311.4,798.8 314.0,797.7 C316.6,796.6 319.0,792.0 321.8,788.5 C324.6,785.0 328.0,781.4 331.0,776.8 C334.0,772.2 337.2,764.5 340.0,761.0 C342.8,757.5 345.0,757.7 348.0,756.0 C351.0,754.3 355.1,751.3 358.0,750.7 C360.9,750.1 363.0,752.2 365.5,752.5 C368.0,752.7 371.8,752.1 373.0,752.0" fill="none" stroke="#d6141b" stroke-width="3.2" stroke-linecap="round" stroke-linejoin="round"/>
<path d="M0.0,769.7 C1.1,769.8 4.4,770.1 6.7,770.2 C8.9,770.3 11.1,770.2 13.3,770.4 C15.6,770.5 17.8,770.9 20.0,771.0 C22.2,771.1 24.4,771.4 26.7,770.9 C28.9,770.4 31.1,768.4 33.3,767.9 C35.6,767.5 37.2,768.2 40.0,768.2 C42.8,768.2 47.2,767.3 50.0,768.0 C52.8,768.7 54.5,772.1 57.0,772.6 C59.5,773.1 62.4,771.2 65.0,771.0 C67.6,770.8 70.0,770.8 72.5,771.1 C75.0,771.4 77.5,773.0 80.0,773.0 C82.5,773.0 85.0,771.2 87.5,770.9 C90.0,770.5 92.9,771.3 95.0,771.0 C97.1,770.7 97.9,769.4 100.0,769.0 C102.1,768.6 105.0,768.7 107.5,768.3 C110.0,768.0 112.5,767.6 115.0,767.0 C117.5,766.4 120.0,765.2 122.5,764.6 C125.0,764.1 127.5,764.2 130.0,763.7 C132.5,763.2 135.0,762.1 137.5,761.8 C140.0,761.5 142.5,762.0 145.0,762.0 C147.5,762.0 150.0,762.2 152.5,762.0 C155.0,761.7 157.5,760.5 160.0,760.5 C162.5,760.5 165.0,762.1 167.5,762.0 C170.0,761.9 172.5,760.5 175.0,760.0 C177.5,759.5 180.0,759.1 182.5,759.0 C185.0,759.0 187.5,759.6 190.0,759.6 C192.5,759.6 195.0,759.5 197.5,759.1 C200.0,758.6 202.6,757.7 205.0,757.0 C207.4,756.3 209.5,752.3 212.0,755.0 C214.5,757.7 217.8,768.8 220.0,773.0 C222.2,777.2 223.3,781.3 225.0,780.0 C226.7,778.7 228.2,771.7 230.0,765.0 C231.8,758.3 234.0,747.2 236.0,740.0 C238.0,732.8 240.0,722.0 242.0,722.0 C244.0,722.0 245.8,736.2 248.0,740.0 C250.2,743.8 252.7,742.0 255.0,745.0 C257.3,748.0 259.5,752.7 262.0,758.0 C264.5,763.3 267.1,773.7 270.0,777.0 C272.9,780.3 277.4,779.2 279.6,778.0 C281.9,776.8 281.4,768.9 283.5,770.0 C285.6,771.1 289.2,781.3 292.0,784.6 C294.8,787.9 297.2,788.8 300.0,790.0 C302.8,791.2 305.8,792.0 309.0,792.0 C312.2,792.0 316.2,791.9 319.0,790.0 C321.8,788.1 323.3,783.6 325.5,780.5 C327.7,777.4 329.6,774.4 332.0,771.5 C334.4,768.6 337.2,765.0 340.0,763.0 C342.8,761.0 346.5,759.6 349.0,759.8 C351.5,760.0 353.0,762.9 355.0,764.0 C357.0,765.1 358.9,765.9 361.0,766.3 C363.1,766.7 365.3,766.5 367.5,766.5 C369.7,766.5 372.9,766.3 374.0,766.3" fill="none" stroke="#d6141b" stroke-width="3.2" stroke-linecap="round" stroke-linejoin="round" stroke-dasharray="11 8"/>
<text x="242.9" y="713.7" font-size="10.6" font-weight="bold" fill="#111" text-anchor="middle" >N1</text>
<text x="229.8" y="828.4" font-size="10.6" font-weight="bold" fill="#111" text-anchor="middle" >P1</text>
<text x="297.4" y="750.8" font-size="10.6" font-weight="bold" fill="#111" text-anchor="middle" >P3</text>
<text x="313.2" y="824.0" font-size="9.2" font-weight="bold" fill="#111" text-anchor="middle" >RT</text>
<text x="312.4" y="833.2" font-size="9.0" font-weight="bold" fill="#111" text-anchor="middle" >mean</text>
<line x1="299.0" y1="825.0" x2="291.2" y2="832.4" stroke="#111" stroke-width="1.15"/>
<polygon points="289.0,834.5 291.1,829.4 294.2,832.7" fill="#111"/>
</svg></body></html>
